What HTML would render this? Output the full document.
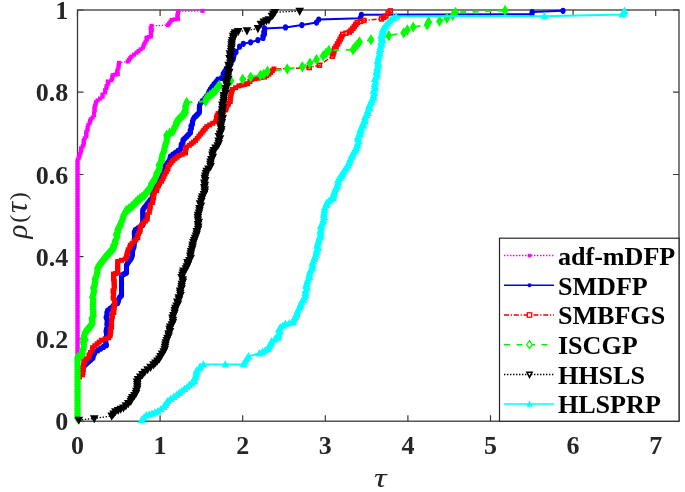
<!DOCTYPE html>
<html><head><meta charset="utf-8"><title>Performance profile</title>
<style>html,body{margin:0;padding:0;background:#fff}body{width:685px;height:492px;overflow:hidden}</style></head>
<body>
<svg width="685" height="492" viewBox="0 0 685 492" style="display:block">
<rect width="685" height="492" fill="#fff"/>
<rect x="77.5" y="10.0" width="601.5" height="411.2" fill="none" stroke="#3a3a3a" stroke-width="1.3"/>
<path d="M77.5 421.2v-6 M77.5 10.0v6 M160.1 421.2v-6 M160.1 10.0v6 M242.7 421.2v-6 M242.7 10.0v6 M325.3 421.2v-6 M325.3 10.0v6 M407.9 421.2v-6 M407.9 10.0v6 M490.5 421.2v-6 M490.5 10.0v6 M573.1 421.2v-6 M573.1 10.0v6 M655.7 421.2v-6 M655.7 10.0v6 M77.5 421.2h6 M679.0 421.2h-6 M77.5 339.0h6 M679.0 339.0h-6 M77.5 256.7h6 M679.0 256.7h-6 M77.5 174.5h6 M679.0 174.5h-6 M77.5 92.2h6 M679.0 92.2h-6 M77.5 10.0h6 M679.0 10.0h-6" stroke="#3a3a3a" stroke-width="1.2" fill="none"/>
<text x="77.5" y="454.0" text-anchor="middle" font-family="&quot;Liberation Serif&quot;, serif" font-weight="bold" font-size="26" fill="#262626">0</text>
<text x="160.1" y="454.0" text-anchor="middle" font-family="&quot;Liberation Serif&quot;, serif" font-weight="bold" font-size="26" fill="#262626">1</text>
<text x="242.7" y="454.0" text-anchor="middle" font-family="&quot;Liberation Serif&quot;, serif" font-weight="bold" font-size="26" fill="#262626">2</text>
<text x="325.3" y="454.0" text-anchor="middle" font-family="&quot;Liberation Serif&quot;, serif" font-weight="bold" font-size="26" fill="#262626">3</text>
<text x="407.9" y="454.0" text-anchor="middle" font-family="&quot;Liberation Serif&quot;, serif" font-weight="bold" font-size="26" fill="#262626">4</text>
<text x="490.5" y="454.0" text-anchor="middle" font-family="&quot;Liberation Serif&quot;, serif" font-weight="bold" font-size="26" fill="#262626">5</text>
<text x="573.1" y="454.0" text-anchor="middle" font-family="&quot;Liberation Serif&quot;, serif" font-weight="bold" font-size="26" fill="#262626">6</text>
<text x="655.7" y="454.0" text-anchor="middle" font-family="&quot;Liberation Serif&quot;, serif" font-weight="bold" font-size="26" fill="#262626">7</text>
<text x="68.3" y="430.2" text-anchor="end" font-family="&quot;Liberation Serif&quot;, serif" font-weight="bold" font-size="26" fill="#262626">0</text>
<text x="68.3" y="348.0" text-anchor="end" font-family="&quot;Liberation Serif&quot;, serif" font-weight="bold" font-size="26" fill="#262626">0.2</text>
<text x="68.3" y="265.7" text-anchor="end" font-family="&quot;Liberation Serif&quot;, serif" font-weight="bold" font-size="26" fill="#262626">0.4</text>
<text x="68.3" y="183.5" text-anchor="end" font-family="&quot;Liberation Serif&quot;, serif" font-weight="bold" font-size="26" fill="#262626">0.6</text>
<text x="68.3" y="101.2" text-anchor="end" font-family="&quot;Liberation Serif&quot;, serif" font-weight="bold" font-size="26" fill="#262626">0.8</text>
<text x="68.3" y="19.0" text-anchor="end" font-family="&quot;Liberation Serif&quot;, serif" font-weight="bold" font-size="26" fill="#262626">1</text>
<text transform="translate(380.3,486.5) scale(1.3,1)" text-anchor="middle" font-family="&quot;Liberation Serif&quot;, serif" font-style="italic" font-size="27" fill="#262626">τ</text>
<text transform="translate(27.2,214.5) rotate(-90)" text-anchor="middle" font-family="&quot;Liberation Serif&quot;, serif" font-style="italic" font-size="27" fill="#262626" letter-spacing="1.7"><tspan font-size="29">ρ</tspan><tspan font-style="normal" font-size="24" dy="-1">(</tspan><tspan font-size="31" dy="1">τ</tspan><tspan font-style="normal" font-size="24" dy="-1">)</tspan></text>
<path d="M77.5 419.0 L77.5 160.3 L81.3 150.2 L83.8 142.7 L87.6 130.1 L89.6 123.0 L92.6 117.6 L95.1 106.0 L97.6 100.4 L102.6 96.7 L106.4 87.9 L107.7 81.6 L111.4 80.3 L112.7 75.3 L117.7 74.0 L119.0 62.8 L127.7 61.5 L131.5 56.5 L136.5 52.7 L142.8 47.7 L146.6 37.7 L150.8 36.4 L151.6 25.9 L167.9 25.1 L171.7 20.0 L178.0 18.8 L178.5 11.3 L202.6 10.8" fill="none" stroke="#ff00ff" stroke-width="1.3" stroke-dasharray="1.4 1.6" stroke-linejoin="round"/>
<g><rect x="75.5" y="416.9" width="4.1" height="4.1" fill="#ff00ff"/><rect x="75.5" y="414.5" width="4.1" height="4.1" fill="#ff00ff"/><rect x="75.5" y="412.0" width="4.1" height="4.1" fill="#ff00ff"/><rect x="75.5" y="409.5" width="4.1" height="4.1" fill="#ff00ff"/><rect x="75.5" y="407.0" width="4.1" height="4.1" fill="#ff00ff"/><rect x="75.5" y="404.5" width="4.1" height="4.1" fill="#ff00ff"/><rect x="75.5" y="402.0" width="4.1" height="4.1" fill="#ff00ff"/><rect x="75.5" y="399.5" width="4.1" height="4.1" fill="#ff00ff"/><rect x="75.5" y="397.1" width="4.1" height="4.1" fill="#ff00ff"/><rect x="75.5" y="394.6" width="4.1" height="4.1" fill="#ff00ff"/><rect x="75.5" y="392.1" width="4.1" height="4.1" fill="#ff00ff"/><rect x="75.5" y="389.6" width="4.1" height="4.1" fill="#ff00ff"/><rect x="75.5" y="387.1" width="4.1" height="4.1" fill="#ff00ff"/><rect x="75.5" y="384.6" width="4.1" height="4.1" fill="#ff00ff"/><rect x="75.5" y="382.1" width="4.1" height="4.1" fill="#ff00ff"/><rect x="75.5" y="379.6" width="4.1" height="4.1" fill="#ff00ff"/><rect x="75.5" y="377.1" width="4.1" height="4.1" fill="#ff00ff"/><rect x="75.5" y="374.7" width="4.1" height="4.1" fill="#ff00ff"/><rect x="75.5" y="372.2" width="4.1" height="4.1" fill="#ff00ff"/><rect x="75.5" y="369.7" width="4.1" height="4.1" fill="#ff00ff"/><rect x="75.5" y="367.2" width="4.1" height="4.1" fill="#ff00ff"/><rect x="75.5" y="364.7" width="4.1" height="4.1" fill="#ff00ff"/><rect x="75.5" y="362.2" width="4.1" height="4.1" fill="#ff00ff"/><rect x="75.5" y="359.7" width="4.1" height="4.1" fill="#ff00ff"/><rect x="75.5" y="357.2" width="4.1" height="4.1" fill="#ff00ff"/><rect x="75.5" y="354.8" width="4.1" height="4.1" fill="#ff00ff"/><rect x="75.5" y="352.3" width="4.1" height="4.1" fill="#ff00ff"/><rect x="75.5" y="349.8" width="4.1" height="4.1" fill="#ff00ff"/><rect x="75.5" y="347.3" width="4.1" height="4.1" fill="#ff00ff"/><rect x="75.5" y="344.8" width="4.1" height="4.1" fill="#ff00ff"/><rect x="75.5" y="342.3" width="4.1" height="4.1" fill="#ff00ff"/><rect x="75.5" y="339.8" width="4.1" height="4.1" fill="#ff00ff"/><rect x="75.5" y="337.3" width="4.1" height="4.1" fill="#ff00ff"/><rect x="75.5" y="334.9" width="4.1" height="4.1" fill="#ff00ff"/><rect x="75.5" y="332.4" width="4.1" height="4.1" fill="#ff00ff"/><rect x="75.5" y="329.9" width="4.1" height="4.1" fill="#ff00ff"/><rect x="75.5" y="327.4" width="4.1" height="4.1" fill="#ff00ff"/><rect x="75.5" y="324.9" width="4.1" height="4.1" fill="#ff00ff"/><rect x="75.5" y="322.4" width="4.1" height="4.1" fill="#ff00ff"/><rect x="75.5" y="319.9" width="4.1" height="4.1" fill="#ff00ff"/><rect x="75.5" y="317.4" width="4.1" height="4.1" fill="#ff00ff"/><rect x="75.5" y="315.0" width="4.1" height="4.1" fill="#ff00ff"/><rect x="75.5" y="312.5" width="4.1" height="4.1" fill="#ff00ff"/><rect x="75.5" y="310.0" width="4.1" height="4.1" fill="#ff00ff"/><rect x="75.5" y="307.5" width="4.1" height="4.1" fill="#ff00ff"/><rect x="75.5" y="305.0" width="4.1" height="4.1" fill="#ff00ff"/><rect x="75.5" y="302.5" width="4.1" height="4.1" fill="#ff00ff"/><rect x="75.5" y="300.0" width="4.1" height="4.1" fill="#ff00ff"/><rect x="75.5" y="297.6" width="4.1" height="4.1" fill="#ff00ff"/><rect x="75.5" y="295.1" width="4.1" height="4.1" fill="#ff00ff"/><rect x="75.5" y="292.6" width="4.1" height="4.1" fill="#ff00ff"/><rect x="75.5" y="290.1" width="4.1" height="4.1" fill="#ff00ff"/><rect x="75.5" y="287.6" width="4.1" height="4.1" fill="#ff00ff"/><rect x="75.5" y="285.1" width="4.1" height="4.1" fill="#ff00ff"/><rect x="75.5" y="282.6" width="4.1" height="4.1" fill="#ff00ff"/><rect x="75.5" y="280.1" width="4.1" height="4.1" fill="#ff00ff"/><rect x="75.5" y="277.7" width="4.1" height="4.1" fill="#ff00ff"/><rect x="75.5" y="275.2" width="4.1" height="4.1" fill="#ff00ff"/><rect x="75.5" y="272.7" width="4.1" height="4.1" fill="#ff00ff"/><rect x="75.5" y="270.2" width="4.1" height="4.1" fill="#ff00ff"/><rect x="75.5" y="267.7" width="4.1" height="4.1" fill="#ff00ff"/><rect x="75.5" y="265.2" width="4.1" height="4.1" fill="#ff00ff"/><rect x="75.5" y="262.7" width="4.1" height="4.1" fill="#ff00ff"/><rect x="75.5" y="260.2" width="4.1" height="4.1" fill="#ff00ff"/><rect x="75.5" y="257.8" width="4.1" height="4.1" fill="#ff00ff"/><rect x="75.5" y="255.3" width="4.1" height="4.1" fill="#ff00ff"/><rect x="75.5" y="252.8" width="4.1" height="4.1" fill="#ff00ff"/><rect x="75.5" y="250.3" width="4.1" height="4.1" fill="#ff00ff"/><rect x="75.5" y="247.8" width="4.1" height="4.1" fill="#ff00ff"/><rect x="75.5" y="245.3" width="4.1" height="4.1" fill="#ff00ff"/><rect x="75.5" y="242.8" width="4.1" height="4.1" fill="#ff00ff"/><rect x="75.5" y="240.3" width="4.1" height="4.1" fill="#ff00ff"/><rect x="75.5" y="237.8" width="4.1" height="4.1" fill="#ff00ff"/><rect x="75.5" y="235.4" width="4.1" height="4.1" fill="#ff00ff"/><rect x="75.5" y="232.9" width="4.1" height="4.1" fill="#ff00ff"/><rect x="75.5" y="230.4" width="4.1" height="4.1" fill="#ff00ff"/><rect x="75.5" y="227.9" width="4.1" height="4.1" fill="#ff00ff"/><rect x="75.5" y="225.4" width="4.1" height="4.1" fill="#ff00ff"/><rect x="75.5" y="222.9" width="4.1" height="4.1" fill="#ff00ff"/><rect x="75.5" y="220.4" width="4.1" height="4.1" fill="#ff00ff"/><rect x="75.5" y="217.9" width="4.1" height="4.1" fill="#ff00ff"/><rect x="75.5" y="215.5" width="4.1" height="4.1" fill="#ff00ff"/><rect x="75.5" y="213.0" width="4.1" height="4.1" fill="#ff00ff"/><rect x="75.5" y="210.5" width="4.1" height="4.1" fill="#ff00ff"/><rect x="75.5" y="208.0" width="4.1" height="4.1" fill="#ff00ff"/><rect x="75.5" y="205.5" width="4.1" height="4.1" fill="#ff00ff"/><rect x="75.5" y="203.0" width="4.1" height="4.1" fill="#ff00ff"/><rect x="75.5" y="200.5" width="4.1" height="4.1" fill="#ff00ff"/><rect x="75.5" y="198.1" width="4.1" height="4.1" fill="#ff00ff"/><rect x="75.5" y="195.6" width="4.1" height="4.1" fill="#ff00ff"/><rect x="75.5" y="193.1" width="4.1" height="4.1" fill="#ff00ff"/><rect x="75.5" y="190.6" width="4.1" height="4.1" fill="#ff00ff"/><rect x="75.5" y="188.1" width="4.1" height="4.1" fill="#ff00ff"/><rect x="75.5" y="185.6" width="4.1" height="4.1" fill="#ff00ff"/><rect x="75.5" y="183.1" width="4.1" height="4.1" fill="#ff00ff"/><rect x="75.5" y="180.6" width="4.1" height="4.1" fill="#ff00ff"/><rect x="75.5" y="178.1" width="4.1" height="4.1" fill="#ff00ff"/><rect x="75.5" y="175.7" width="4.1" height="4.1" fill="#ff00ff"/><rect x="75.5" y="173.2" width="4.1" height="4.1" fill="#ff00ff"/><rect x="75.5" y="170.7" width="4.1" height="4.1" fill="#ff00ff"/><rect x="75.5" y="168.2" width="4.1" height="4.1" fill="#ff00ff"/><rect x="75.5" y="165.7" width="4.1" height="4.1" fill="#ff00ff"/><rect x="75.5" y="163.2" width="4.1" height="4.1" fill="#ff00ff"/><rect x="75.5" y="160.7" width="4.1" height="4.1" fill="#ff00ff"/><rect x="75.5" y="158.2" width="4.1" height="4.1" fill="#ff00ff"/><rect x="76.6" y="156.2" width="4.1" height="4.1" fill="#ff00ff"/><rect x="77.4" y="154.2" width="4.1" height="4.1" fill="#ff00ff"/><rect x="77.6" y="152.2" width="4.1" height="4.1" fill="#ff00ff"/><rect x="78.7" y="150.2" width="4.1" height="4.1" fill="#ff00ff"/><rect x="79.2" y="148.1" width="4.1" height="4.1" fill="#ff00ff"/><rect x="79.0" y="146.3" width="4.1" height="4.1" fill="#ff00ff"/><rect x="80.6" y="144.4" width="4.1" height="4.1" fill="#ff00ff"/><rect x="81.5" y="142.5" width="4.1" height="4.1" fill="#ff00ff"/><rect x="81.8" y="140.6" width="4.1" height="4.1" fill="#ff00ff"/><rect x="81.6" y="138.5" width="4.1" height="4.1" fill="#ff00ff"/><rect x="82.7" y="136.4" width="4.1" height="4.1" fill="#ff00ff"/><rect x="84.3" y="134.3" width="4.1" height="4.1" fill="#ff00ff"/><rect x="84.2" y="132.2" width="4.1" height="4.1" fill="#ff00ff"/><rect x="84.2" y="130.1" width="4.1" height="4.1" fill="#ff00ff"/><rect x="85.5" y="128.0" width="4.1" height="4.1" fill="#ff00ff"/><rect x="85.5" y="125.7" width="4.1" height="4.1" fill="#ff00ff"/><rect x="86.2" y="123.3" width="4.1" height="4.1" fill="#ff00ff"/><rect x="87.5" y="121.0" width="4.1" height="4.1" fill="#ff00ff"/><rect x="88.0" y="119.2" width="4.1" height="4.1" fill="#ff00ff"/><rect x="88.7" y="117.3" width="4.1" height="4.1" fill="#ff00ff"/><rect x="90.5" y="115.5" width="4.1" height="4.1" fill="#ff00ff"/><rect x="91.9" y="113.2" width="4.1" height="4.1" fill="#ff00ff"/><rect x="92.0" y="110.9" width="4.1" height="4.1" fill="#ff00ff"/><rect x="92.7" y="108.6" width="4.1" height="4.1" fill="#ff00ff"/><rect x="92.3" y="106.3" width="4.1" height="4.1" fill="#ff00ff"/><rect x="93.0" y="104.0" width="4.1" height="4.1" fill="#ff00ff"/><rect x="93.6" y="102.1" width="4.1" height="4.1" fill="#ff00ff"/><rect x="93.9" y="100.2" width="4.1" height="4.1" fill="#ff00ff"/><rect x="95.5" y="98.4" width="4.1" height="4.1" fill="#ff00ff"/><rect x="98.0" y="96.5" width="4.1" height="4.1" fill="#ff00ff"/><rect x="100.5" y="94.7" width="4.1" height="4.1" fill="#ff00ff"/><rect x="100.5" y="92.5" width="4.1" height="4.1" fill="#ff00ff"/><rect x="103.0" y="90.3" width="4.1" height="4.1" fill="#ff00ff"/><rect x="103.1" y="88.1" width="4.1" height="4.1" fill="#ff00ff"/><rect x="104.4" y="85.9" width="4.1" height="4.1" fill="#ff00ff"/><rect x="104.6" y="83.8" width="4.1" height="4.1" fill="#ff00ff"/><rect x="106.2" y="81.7" width="4.1" height="4.1" fill="#ff00ff"/><rect x="105.7" y="79.5" width="4.1" height="4.1" fill="#ff00ff"/><rect x="109.4" y="78.2" width="4.1" height="4.1" fill="#ff00ff"/><rect x="110.2" y="76.6" width="4.1" height="4.1" fill="#ff00ff"/><rect x="110.3" y="74.9" width="4.1" height="4.1" fill="#ff00ff"/><rect x="110.7" y="73.2" width="4.1" height="4.1" fill="#ff00ff"/><rect x="113.2" y="72.6" width="4.1" height="4.1" fill="#ff00ff"/><rect x="115.7" y="72.0" width="4.1" height="4.1" fill="#ff00ff"/><rect x="115.1" y="69.7" width="4.1" height="4.1" fill="#ff00ff"/><rect x="115.7" y="67.5" width="4.1" height="4.1" fill="#ff00ff"/><rect x="116.6" y="65.2" width="4.1" height="4.1" fill="#ff00ff"/><rect x="116.6" y="63.0" width="4.1" height="4.1" fill="#ff00ff"/><rect x="117.0" y="60.8" width="4.1" height="4.1" fill="#ff00ff"/><rect x="125.7" y="59.5" width="4.1" height="4.1" fill="#ff00ff"/><rect x="126.9" y="57.8" width="4.1" height="4.1" fill="#ff00ff"/><rect x="128.2" y="56.1" width="4.1" height="4.1" fill="#ff00ff"/><rect x="129.4" y="54.5" width="4.1" height="4.1" fill="#ff00ff"/><rect x="131.9" y="52.6" width="4.1" height="4.1" fill="#ff00ff"/><rect x="134.4" y="50.7" width="4.1" height="4.1" fill="#ff00ff"/><rect x="136.5" y="49.0" width="4.1" height="4.1" fill="#ff00ff"/><rect x="138.7" y="47.3" width="4.1" height="4.1" fill="#ff00ff"/><rect x="140.8" y="45.7" width="4.1" height="4.1" fill="#ff00ff"/><rect x="141.5" y="43.7" width="4.1" height="4.1" fill="#ff00ff"/><rect x="142.4" y="41.7" width="4.1" height="4.1" fill="#ff00ff"/><rect x="143.5" y="39.7" width="4.1" height="4.1" fill="#ff00ff"/><rect x="144.8" y="37.7" width="4.1" height="4.1" fill="#ff00ff"/><rect x="144.5" y="35.7" width="4.1" height="4.1" fill="#ff00ff"/><rect x="146.6" y="35.0" width="4.1" height="4.1" fill="#ff00ff"/><rect x="148.8" y="34.4" width="4.1" height="4.1" fill="#ff00ff"/><rect x="149.0" y="32.2" width="4.1" height="4.1" fill="#ff00ff"/><rect x="148.7" y="30.1" width="4.1" height="4.1" fill="#ff00ff"/><rect x="149.8" y="28.0" width="4.1" height="4.1" fill="#ff00ff"/><rect x="148.6" y="25.9" width="4.1" height="4.1" fill="#ff00ff"/><rect x="149.5" y="23.8" width="4.1" height="4.1" fill="#ff00ff"/><rect x="165.8" y="23.1" width="4.1" height="4.1" fill="#ff00ff"/><rect x="167.1" y="21.4" width="4.1" height="4.1" fill="#ff00ff"/><rect x="168.4" y="19.6" width="4.1" height="4.1" fill="#ff00ff"/><rect x="169.6" y="17.9" width="4.1" height="4.1" fill="#ff00ff"/><rect x="172.8" y="17.3" width="4.1" height="4.1" fill="#ff00ff"/><rect x="175.9" y="16.8" width="4.1" height="4.1" fill="#ff00ff"/><rect x="175.5" y="14.9" width="4.1" height="4.1" fill="#ff00ff"/><rect x="175.4" y="13.0" width="4.1" height="4.1" fill="#ff00ff"/><rect x="175.9" y="11.1" width="4.1" height="4.1" fill="#ff00ff"/><rect x="176.4" y="9.2" width="4.1" height="4.1" fill="#ff00ff"/><rect x="200.5" y="8.8" width="4.1" height="4.1" fill="#ff00ff"/></g>
<path d="M79.0 371.0 L84.5 365.5 L93.0 357.8 L94.8 352.2 L106.4 345.2 L107.2 315.1 L107.7 310.5 L117.7 302.9 L121.5 295.4 L121.5 275.3 L126.5 272.8 L126.5 265.3 L131.5 257.7 L134.0 245.2 L135.3 230.1 L142.8 225.1 L142.8 210.0 L144.1 208.0 L150.3 200.0 L162.9 170.3 L170.4 156.5 L180.5 149.0 L183.0 140.2 L190.5 132.6 L194.3 117.6 L199.3 112.6 L199.5 106.0 L212.0 86.9 L217.8 79.5 L221.5 78.0 L227.0 68.0 L233.1 59.2 L236.0 51.9 L239.6 46.7 L243.3 43.8 L250.6 42.3 L257.9 40.1 L263.1 37.9 L263.8 32.1 L264.5 28.4 L285.5 27.4 L301.9 25.1 L316.5 22.6 L318.7 19.6 L360.3 18.2 L361.4 14.8 L531.9 14.2 L532.2 12.0 L563.0 10.8" fill="none" stroke="#0000f0" stroke-width="2.0" stroke-linejoin="round"/>
<g><ellipse cx="79.0" cy="371.0" rx="2.6" ry="3.1" fill="#0000f0"/><ellipse cx="80.8" cy="369.2" rx="2.6" ry="3.1" fill="#0000f0"/><ellipse cx="82.7" cy="367.3" rx="2.6" ry="3.1" fill="#0000f0"/><ellipse cx="84.5" cy="365.5" rx="2.6" ry="3.1" fill="#0000f0"/><ellipse cx="86.6" cy="363.6" rx="2.6" ry="3.1" fill="#0000f0"/><ellipse cx="88.8" cy="361.6" rx="2.6" ry="3.1" fill="#0000f0"/><ellipse cx="90.9" cy="359.7" rx="2.6" ry="3.1" fill="#0000f0"/><ellipse cx="93.0" cy="357.8" rx="2.6" ry="3.1" fill="#0000f0"/><ellipse cx="92.8" cy="355.9" rx="2.6" ry="3.1" fill="#0000f0"/><ellipse cx="94.3" cy="354.1" rx="2.6" ry="3.1" fill="#0000f0"/><ellipse cx="94.8" cy="352.2" rx="2.6" ry="3.1" fill="#0000f0"/><ellipse cx="97.7" cy="350.4" rx="2.6" ry="3.1" fill="#0000f0"/><ellipse cx="100.6" cy="348.7" rx="2.6" ry="3.1" fill="#0000f0"/><ellipse cx="103.5" cy="346.9" rx="2.6" ry="3.1" fill="#0000f0"/><ellipse cx="106.4" cy="345.2" rx="2.6" ry="3.1" fill="#0000f0"/><ellipse cx="105.7" cy="342.9" rx="2.6" ry="3.1" fill="#0000f0"/><ellipse cx="105.9" cy="340.6" rx="2.6" ry="3.1" fill="#0000f0"/><ellipse cx="105.8" cy="338.3" rx="2.6" ry="3.1" fill="#0000f0"/><ellipse cx="106.6" cy="335.9" rx="2.6" ry="3.1" fill="#0000f0"/><ellipse cx="106.5" cy="333.6" rx="2.6" ry="3.1" fill="#0000f0"/><ellipse cx="106.1" cy="331.3" rx="2.6" ry="3.1" fill="#0000f0"/><ellipse cx="106.5" cy="329.0" rx="2.6" ry="3.1" fill="#0000f0"/><ellipse cx="107.7" cy="326.7" rx="2.6" ry="3.1" fill="#0000f0"/><ellipse cx="106.9" cy="324.4" rx="2.6" ry="3.1" fill="#0000f0"/><ellipse cx="107.2" cy="322.0" rx="2.6" ry="3.1" fill="#0000f0"/><ellipse cx="107.2" cy="319.7" rx="2.6" ry="3.1" fill="#0000f0"/><ellipse cx="106.2" cy="317.4" rx="2.6" ry="3.1" fill="#0000f0"/><ellipse cx="107.2" cy="315.1" rx="2.6" ry="3.1" fill="#0000f0"/><ellipse cx="106.9" cy="312.8" rx="2.6" ry="3.1" fill="#0000f0"/><ellipse cx="107.7" cy="310.5" rx="2.6" ry="3.1" fill="#0000f0"/><ellipse cx="110.2" cy="308.6" rx="2.6" ry="3.1" fill="#0000f0"/><ellipse cx="112.7" cy="306.7" rx="2.6" ry="3.1" fill="#0000f0"/><ellipse cx="115.2" cy="304.8" rx="2.6" ry="3.1" fill="#0000f0"/><ellipse cx="117.7" cy="302.9" rx="2.6" ry="3.1" fill="#0000f0"/><ellipse cx="118.4" cy="301.0" rx="2.6" ry="3.1" fill="#0000f0"/><ellipse cx="118.8" cy="299.1" rx="2.6" ry="3.1" fill="#0000f0"/><ellipse cx="119.7" cy="297.3" rx="2.6" ry="3.1" fill="#0000f0"/><ellipse cx="121.5" cy="295.4" rx="2.6" ry="3.1" fill="#0000f0"/><ellipse cx="121.5" cy="293.2" rx="2.6" ry="3.1" fill="#0000f0"/><ellipse cx="121.5" cy="290.9" rx="2.6" ry="3.1" fill="#0000f0"/><ellipse cx="121.5" cy="288.7" rx="2.6" ry="3.1" fill="#0000f0"/><ellipse cx="121.5" cy="286.5" rx="2.6" ry="3.1" fill="#0000f0"/><ellipse cx="121.5" cy="284.2" rx="2.6" ry="3.1" fill="#0000f0"/><ellipse cx="121.5" cy="282.0" rx="2.6" ry="3.1" fill="#0000f0"/><ellipse cx="121.5" cy="279.8" rx="2.6" ry="3.1" fill="#0000f0"/><ellipse cx="121.5" cy="277.5" rx="2.6" ry="3.1" fill="#0000f0"/><ellipse cx="121.5" cy="275.3" rx="2.6" ry="3.1" fill="#0000f0"/><ellipse cx="124.0" cy="274.1" rx="2.6" ry="3.1" fill="#0000f0"/><ellipse cx="126.5" cy="272.8" rx="2.6" ry="3.1" fill="#0000f0"/><ellipse cx="126.5" cy="270.9" rx="2.6" ry="3.1" fill="#0000f0"/><ellipse cx="126.5" cy="269.1" rx="2.6" ry="3.1" fill="#0000f0"/><ellipse cx="126.5" cy="267.2" rx="2.6" ry="3.1" fill="#0000f0"/><ellipse cx="126.5" cy="265.3" rx="2.6" ry="3.1" fill="#0000f0"/><ellipse cx="127.6" cy="263.4" rx="2.6" ry="3.1" fill="#0000f0"/><ellipse cx="128.9" cy="261.5" rx="2.6" ry="3.1" fill="#0000f0"/><ellipse cx="130.4" cy="259.6" rx="2.6" ry="3.1" fill="#0000f0"/><ellipse cx="131.5" cy="257.7" rx="2.6" ry="3.1" fill="#0000f0"/><ellipse cx="132.3" cy="255.6" rx="2.6" ry="3.1" fill="#0000f0"/><ellipse cx="132.4" cy="253.5" rx="2.6" ry="3.1" fill="#0000f0"/><ellipse cx="132.6" cy="251.4" rx="2.6" ry="3.1" fill="#0000f0"/><ellipse cx="132.8" cy="249.4" rx="2.6" ry="3.1" fill="#0000f0"/><ellipse cx="133.9" cy="247.3" rx="2.6" ry="3.1" fill="#0000f0"/><ellipse cx="134.0" cy="245.2" rx="2.6" ry="3.1" fill="#0000f0"/><ellipse cx="134.3" cy="243.0" rx="2.6" ry="3.1" fill="#0000f0"/><ellipse cx="135.0" cy="240.9" rx="2.6" ry="3.1" fill="#0000f0"/><ellipse cx="134.4" cy="238.7" rx="2.6" ry="3.1" fill="#0000f0"/><ellipse cx="135.3" cy="236.6" rx="2.6" ry="3.1" fill="#0000f0"/><ellipse cx="134.4" cy="234.4" rx="2.6" ry="3.1" fill="#0000f0"/><ellipse cx="134.4" cy="232.3" rx="2.6" ry="3.1" fill="#0000f0"/><ellipse cx="135.3" cy="230.1" rx="2.6" ry="3.1" fill="#0000f0"/><ellipse cx="137.8" cy="228.4" rx="2.6" ry="3.1" fill="#0000f0"/><ellipse cx="140.3" cy="226.8" rx="2.6" ry="3.1" fill="#0000f0"/><ellipse cx="142.8" cy="225.1" rx="2.6" ry="3.1" fill="#0000f0"/><ellipse cx="142.8" cy="222.9" rx="2.6" ry="3.1" fill="#0000f0"/><ellipse cx="142.8" cy="220.8" rx="2.6" ry="3.1" fill="#0000f0"/><ellipse cx="142.8" cy="218.6" rx="2.6" ry="3.1" fill="#0000f0"/><ellipse cx="142.8" cy="216.5" rx="2.6" ry="3.1" fill="#0000f0"/><ellipse cx="142.8" cy="214.3" rx="2.6" ry="3.1" fill="#0000f0"/><ellipse cx="142.8" cy="212.2" rx="2.6" ry="3.1" fill="#0000f0"/><ellipse cx="142.8" cy="210.0" rx="2.6" ry="3.1" fill="#0000f0"/><ellipse cx="144.1" cy="208.0" rx="2.6" ry="3.1" fill="#0000f0"/><ellipse cx="145.7" cy="206.0" rx="2.6" ry="3.1" fill="#0000f0"/><ellipse cx="147.2" cy="204.0" rx="2.6" ry="3.1" fill="#0000f0"/><ellipse cx="148.8" cy="202.0" rx="2.6" ry="3.1" fill="#0000f0"/><ellipse cx="150.3" cy="200.0" rx="2.6" ry="3.1" fill="#0000f0"/><ellipse cx="152.2" cy="197.5" rx="2.6" ry="3.1" fill="#0000f0"/><ellipse cx="152.3" cy="195.1" rx="2.6" ry="3.1" fill="#0000f0"/><ellipse cx="153.3" cy="192.6" rx="2.6" ry="3.1" fill="#0000f0"/><ellipse cx="154.1" cy="190.1" rx="2.6" ry="3.1" fill="#0000f0"/><ellipse cx="155.6" cy="187.6" rx="2.6" ry="3.1" fill="#0000f0"/><ellipse cx="156.6" cy="185.2" rx="2.6" ry="3.1" fill="#0000f0"/><ellipse cx="157.3" cy="182.7" rx="2.6" ry="3.1" fill="#0000f0"/><ellipse cx="158.5" cy="180.2" rx="2.6" ry="3.1" fill="#0000f0"/><ellipse cx="159.4" cy="177.7" rx="2.6" ry="3.1" fill="#0000f0"/><ellipse cx="161.7" cy="175.2" rx="2.6" ry="3.1" fill="#0000f0"/><ellipse cx="161.8" cy="172.8" rx="2.6" ry="3.1" fill="#0000f0"/><ellipse cx="162.9" cy="170.3" rx="2.6" ry="3.1" fill="#0000f0"/><ellipse cx="164.1" cy="168.0" rx="2.6" ry="3.1" fill="#0000f0"/><ellipse cx="165.6" cy="165.7" rx="2.6" ry="3.1" fill="#0000f0"/><ellipse cx="167.2" cy="163.4" rx="2.6" ry="3.1" fill="#0000f0"/><ellipse cx="168.9" cy="161.1" rx="2.6" ry="3.1" fill="#0000f0"/><ellipse cx="170.0" cy="158.8" rx="2.6" ry="3.1" fill="#0000f0"/><ellipse cx="170.4" cy="156.5" rx="2.6" ry="3.1" fill="#0000f0"/><ellipse cx="172.9" cy="154.6" rx="2.6" ry="3.1" fill="#0000f0"/><ellipse cx="175.4" cy="152.8" rx="2.6" ry="3.1" fill="#0000f0"/><ellipse cx="178.0" cy="150.9" rx="2.6" ry="3.1" fill="#0000f0"/><ellipse cx="180.5" cy="149.0" rx="2.6" ry="3.1" fill="#0000f0"/><ellipse cx="181.2" cy="146.8" rx="2.6" ry="3.1" fill="#0000f0"/><ellipse cx="181.3" cy="144.6" rx="2.6" ry="3.1" fill="#0000f0"/><ellipse cx="183.0" cy="142.4" rx="2.6" ry="3.1" fill="#0000f0"/><ellipse cx="183.0" cy="140.2" rx="2.6" ry="3.1" fill="#0000f0"/><ellipse cx="184.9" cy="138.3" rx="2.6" ry="3.1" fill="#0000f0"/><ellipse cx="186.8" cy="136.4" rx="2.6" ry="3.1" fill="#0000f0"/><ellipse cx="188.6" cy="134.5" rx="2.6" ry="3.1" fill="#0000f0"/><ellipse cx="190.5" cy="132.6" rx="2.6" ry="3.1" fill="#0000f0"/><ellipse cx="190.3" cy="130.5" rx="2.6" ry="3.1" fill="#0000f0"/><ellipse cx="191.4" cy="128.3" rx="2.6" ry="3.1" fill="#0000f0"/><ellipse cx="191.1" cy="126.2" rx="2.6" ry="3.1" fill="#0000f0"/><ellipse cx="192.5" cy="124.0" rx="2.6" ry="3.1" fill="#0000f0"/><ellipse cx="192.4" cy="121.9" rx="2.6" ry="3.1" fill="#0000f0"/><ellipse cx="193.2" cy="119.7" rx="2.6" ry="3.1" fill="#0000f0"/><ellipse cx="194.3" cy="117.6" rx="2.6" ry="3.1" fill="#0000f0"/><ellipse cx="196.0" cy="115.9" rx="2.6" ry="3.1" fill="#0000f0"/><ellipse cx="197.6" cy="114.3" rx="2.6" ry="3.1" fill="#0000f0"/><ellipse cx="199.3" cy="112.6" rx="2.6" ry="3.1" fill="#0000f0"/><ellipse cx="199.4" cy="110.4" rx="2.6" ry="3.1" fill="#0000f0"/><ellipse cx="199.4" cy="108.2" rx="2.6" ry="3.1" fill="#0000f0"/><ellipse cx="199.5" cy="106.0" rx="2.6" ry="3.1" fill="#0000f0"/><ellipse cx="200.4" cy="103.6" rx="2.6" ry="3.1" fill="#0000f0"/><ellipse cx="202.4" cy="101.2" rx="2.6" ry="3.1" fill="#0000f0"/><ellipse cx="204.7" cy="98.8" rx="2.6" ry="3.1" fill="#0000f0"/><ellipse cx="206.3" cy="96.5" rx="2.6" ry="3.1" fill="#0000f0"/><ellipse cx="208.1" cy="94.1" rx="2.6" ry="3.1" fill="#0000f0"/><ellipse cx="209.1" cy="91.7" rx="2.6" ry="3.1" fill="#0000f0"/><ellipse cx="210.3" cy="89.3" rx="2.6" ry="3.1" fill="#0000f0"/><ellipse cx="212.0" cy="86.9" rx="2.6" ry="3.1" fill="#0000f0"/><ellipse cx="213.9" cy="84.4" rx="2.6" ry="3.1" fill="#0000f0"/><ellipse cx="215.9" cy="82.0" rx="2.6" ry="3.1" fill="#0000f0"/><ellipse cx="217.8" cy="79.5" rx="2.6" ry="3.1" fill="#0000f0"/><ellipse cx="221.5" cy="78.0" rx="2.6" ry="3.1" fill="#0000f0"/><ellipse cx="223.5" cy="76.0" rx="2.6" ry="3.1" fill="#0000f0"/><ellipse cx="223.2" cy="74.0" rx="2.6" ry="3.1" fill="#0000f0"/><ellipse cx="224.4" cy="72.0" rx="2.6" ry="3.1" fill="#0000f0"/><ellipse cx="225.7" cy="70.0" rx="2.6" ry="3.1" fill="#0000f0"/><ellipse cx="227.0" cy="68.0" rx="2.6" ry="3.1" fill="#0000f0"/><ellipse cx="228.5" cy="65.8" rx="2.6" ry="3.1" fill="#0000f0"/><ellipse cx="230.1" cy="63.6" rx="2.6" ry="3.1" fill="#0000f0"/><ellipse cx="231.6" cy="61.4" rx="2.6" ry="3.1" fill="#0000f0"/><ellipse cx="233.1" cy="59.2" rx="2.6" ry="3.1" fill="#0000f0"/><ellipse cx="233.7" cy="56.8" rx="2.6" ry="3.1" fill="#0000f0"/><ellipse cx="234.2" cy="54.3" rx="2.6" ry="3.1" fill="#0000f0"/><ellipse cx="236.0" cy="51.9" rx="2.6" ry="3.1" fill="#0000f0"/><ellipse cx="239.6" cy="46.7" rx="2.6" ry="3.1" fill="#0000f0"/><ellipse cx="243.3" cy="43.8" rx="2.6" ry="3.1" fill="#0000f0"/><ellipse cx="250.6" cy="42.3" rx="2.6" ry="3.1" fill="#0000f0"/><ellipse cx="257.9" cy="40.1" rx="2.6" ry="3.1" fill="#0000f0"/><ellipse cx="263.1" cy="37.9" rx="2.6" ry="3.1" fill="#0000f0"/><ellipse cx="263.0" cy="36.0" rx="2.6" ry="3.1" fill="#0000f0"/><ellipse cx="264.5" cy="34.0" rx="2.6" ry="3.1" fill="#0000f0"/><ellipse cx="263.8" cy="32.1" rx="2.6" ry="3.1" fill="#0000f0"/><ellipse cx="264.6" cy="30.2" rx="2.6" ry="3.1" fill="#0000f0"/><ellipse cx="264.5" cy="28.4" rx="2.6" ry="3.1" fill="#0000f0"/><ellipse cx="285.5" cy="27.4" rx="2.6" ry="3.1" fill="#0000f0"/><ellipse cx="301.9" cy="25.1" rx="2.6" ry="3.1" fill="#0000f0"/><ellipse cx="316.5" cy="22.6" rx="2.6" ry="3.1" fill="#0000f0"/><ellipse cx="318.7" cy="19.6" rx="2.6" ry="3.1" fill="#0000f0"/><ellipse cx="360.3" cy="18.2" rx="2.6" ry="3.1" fill="#0000f0"/><ellipse cx="361.4" cy="14.8" rx="2.6" ry="3.1" fill="#0000f0"/><ellipse cx="531.9" cy="14.2" rx="2.6" ry="3.1" fill="#0000f0"/><ellipse cx="532.2" cy="12.0" rx="2.6" ry="3.1" fill="#0000f0"/><ellipse cx="563.0" cy="10.8" rx="2.6" ry="3.1" fill="#0000f0"/></g>
<path d="M79.5 377.0 L82.4 374.9 L83.8 360.3 L89.0 357.3 L92.6 347.7 L101.4 340.2 L108.9 337.7 L111.4 325.1 L113.9 312.6 L113.5 274.1 L117.7 272.8 L117.7 261.5 L125.2 259.0 L130.3 245.2 L137.8 237.7 L141.6 225.1 L147.2 219.3 L150.2 207.5 L154.4 192.9 L162.9 178.8 L167.9 166.8 L172.9 160.5 L179.2 155.5 L185.5 153.0 L186.5 147.0 L189.3 145.4 L195.5 140.4 L200.6 134.1 L206.8 126.6 L215.6 121.6 L218.1 113.6 L225.7 110.0 L228.0 105.0 L230.1 99.8 L232.3 89.5 L238.9 85.9 L247.7 83.7 L252.1 79.3 L264.5 77.1 L268.9 74.2 L274.0 69.0 L309.2 67.6 L319.4 65.2 L332.4 56.2 L334.6 48.9 L339.0 41.6 L342.7 34.3 L349.3 32.1 L352.9 28.4 L357.3 22.6 L363.9 20.4 L381.5 18.9 L385.9 16.0 L390.3 10.9" fill="none" stroke="#ff0000" stroke-width="1.5" stroke-dasharray="5 1.8 1.2 1.8" stroke-linejoin="round"/>
<g><rect x="77.0" y="374.5" width="5.0" height="5.0" fill="#ff0000"/><rect x="79.9" y="372.4" width="5.0" height="5.0" fill="#ff0000"/><rect x="80.5" y="370.0" width="5.0" height="5.0" fill="#ff0000"/><rect x="80.8" y="367.5" width="5.0" height="5.0" fill="#ff0000"/><rect x="80.5" y="365.1" width="5.0" height="5.0" fill="#ff0000"/><rect x="81.0" y="362.7" width="5.0" height="5.0" fill="#ff0000"/><rect x="81.9" y="360.2" width="5.0" height="5.0" fill="#ff0000"/><rect x="81.3" y="357.8" width="5.0" height="5.0" fill="#ff0000"/><rect x="83.9" y="356.3" width="5.0" height="5.0" fill="#ff0000"/><rect x="86.5" y="354.8" width="5.0" height="5.0" fill="#ff0000"/><rect x="86.6" y="352.4" width="5.0" height="5.0" fill="#ff0000"/><rect x="88.0" y="350.0" width="5.0" height="5.0" fill="#ff0000"/><rect x="89.8" y="347.6" width="5.0" height="5.0" fill="#ff0000"/><rect x="90.1" y="345.2" width="5.0" height="5.0" fill="#ff0000"/><rect x="92.3" y="343.3" width="5.0" height="5.0" fill="#ff0000"/><rect x="94.5" y="341.4" width="5.0" height="5.0" fill="#ff0000"/><rect x="96.7" y="339.6" width="5.0" height="5.0" fill="#ff0000"/><rect x="98.9" y="337.7" width="5.0" height="5.0" fill="#ff0000"/><rect x="102.7" y="336.4" width="5.0" height="5.0" fill="#ff0000"/><rect x="106.4" y="335.2" width="5.0" height="5.0" fill="#ff0000"/><rect x="107.7" y="333.1" width="5.0" height="5.0" fill="#ff0000"/><rect x="107.7" y="331.0" width="5.0" height="5.0" fill="#ff0000"/><rect x="108.3" y="328.9" width="5.0" height="5.0" fill="#ff0000"/><rect x="107.8" y="326.8" width="5.0" height="5.0" fill="#ff0000"/><rect x="109.1" y="324.7" width="5.0" height="5.0" fill="#ff0000"/><rect x="108.9" y="322.6" width="5.0" height="5.0" fill="#ff0000"/><rect x="109.1" y="320.5" width="5.0" height="5.0" fill="#ff0000"/><rect x="108.9" y="318.4" width="5.0" height="5.0" fill="#ff0000"/><rect x="109.3" y="316.4" width="5.0" height="5.0" fill="#ff0000"/><rect x="109.9" y="314.3" width="5.0" height="5.0" fill="#ff0000"/><rect x="110.0" y="312.2" width="5.0" height="5.0" fill="#ff0000"/><rect x="111.4" y="310.1" width="5.0" height="5.0" fill="#ff0000"/><rect x="110.6" y="307.7" width="5.0" height="5.0" fill="#ff0000"/><rect x="111.8" y="305.3" width="5.0" height="5.0" fill="#ff0000"/><rect x="111.5" y="302.9" width="5.0" height="5.0" fill="#ff0000"/><rect x="112.3" y="300.5" width="5.0" height="5.0" fill="#ff0000"/><rect x="112.1" y="298.1" width="5.0" height="5.0" fill="#ff0000"/><rect x="110.7" y="295.7" width="5.0" height="5.0" fill="#ff0000"/><rect x="110.8" y="293.3" width="5.0" height="5.0" fill="#ff0000"/><rect x="111.2" y="290.9" width="5.0" height="5.0" fill="#ff0000"/><rect x="110.5" y="288.4" width="5.0" height="5.0" fill="#ff0000"/><rect x="111.6" y="286.0" width="5.0" height="5.0" fill="#ff0000"/><rect x="112.0" y="283.6" width="5.0" height="5.0" fill="#ff0000"/><rect x="111.5" y="281.2" width="5.0" height="5.0" fill="#ff0000"/><rect x="111.8" y="278.8" width="5.0" height="5.0" fill="#ff0000"/><rect x="111.0" y="276.4" width="5.0" height="5.0" fill="#ff0000"/><rect x="111.4" y="274.0" width="5.0" height="5.0" fill="#ff0000"/><rect x="111.0" y="271.6" width="5.0" height="5.0" fill="#ff0000"/><rect x="113.1" y="271.0" width="5.0" height="5.0" fill="#ff0000"/><rect x="115.2" y="270.3" width="5.0" height="5.0" fill="#ff0000"/><rect x="115.2" y="268.0" width="5.0" height="5.0" fill="#ff0000"/><rect x="115.2" y="265.8" width="5.0" height="5.0" fill="#ff0000"/><rect x="115.2" y="263.5" width="5.0" height="5.0" fill="#ff0000"/><rect x="115.2" y="261.3" width="5.0" height="5.0" fill="#ff0000"/><rect x="115.2" y="259.0" width="5.0" height="5.0" fill="#ff0000"/><rect x="119.0" y="257.8" width="5.0" height="5.0" fill="#ff0000"/><rect x="122.7" y="256.5" width="5.0" height="5.0" fill="#ff0000"/><rect x="124.0" y="254.2" width="5.0" height="5.0" fill="#ff0000"/><rect x="124.5" y="251.9" width="5.0" height="5.0" fill="#ff0000"/><rect x="125.1" y="249.6" width="5.0" height="5.0" fill="#ff0000"/><rect x="125.8" y="247.3" width="5.0" height="5.0" fill="#ff0000"/><rect x="127.3" y="245.0" width="5.0" height="5.0" fill="#ff0000"/><rect x="127.8" y="242.7" width="5.0" height="5.0" fill="#ff0000"/><rect x="129.7" y="240.8" width="5.0" height="5.0" fill="#ff0000"/><rect x="131.6" y="238.9" width="5.0" height="5.0" fill="#ff0000"/><rect x="133.4" y="237.1" width="5.0" height="5.0" fill="#ff0000"/><rect x="135.3" y="235.2" width="5.0" height="5.0" fill="#ff0000"/><rect x="135.1" y="233.1" width="5.0" height="5.0" fill="#ff0000"/><rect x="136.1" y="231.0" width="5.0" height="5.0" fill="#ff0000"/><rect x="137.4" y="228.9" width="5.0" height="5.0" fill="#ff0000"/><rect x="137.7" y="226.8" width="5.0" height="5.0" fill="#ff0000"/><rect x="137.6" y="224.7" width="5.0" height="5.0" fill="#ff0000"/><rect x="139.1" y="222.6" width="5.0" height="5.0" fill="#ff0000"/><rect x="141.0" y="220.7" width="5.0" height="5.0" fill="#ff0000"/><rect x="142.8" y="218.7" width="5.0" height="5.0" fill="#ff0000"/><rect x="144.7" y="216.8" width="5.0" height="5.0" fill="#ff0000"/><rect x="144.9" y="214.4" width="5.0" height="5.0" fill="#ff0000"/><rect x="145.0" y="212.1" width="5.0" height="5.0" fill="#ff0000"/><rect x="146.8" y="209.7" width="5.0" height="5.0" fill="#ff0000"/><rect x="147.2" y="207.4" width="5.0" height="5.0" fill="#ff0000"/><rect x="147.7" y="205.0" width="5.0" height="5.0" fill="#ff0000"/><rect x="147.8" y="202.6" width="5.0" height="5.0" fill="#ff0000"/><rect x="150.0" y="200.1" width="5.0" height="5.0" fill="#ff0000"/><rect x="150.4" y="197.7" width="5.0" height="5.0" fill="#ff0000"/><rect x="151.2" y="195.3" width="5.0" height="5.0" fill="#ff0000"/><rect x="150.4" y="192.8" width="5.0" height="5.0" fill="#ff0000"/><rect x="151.9" y="190.4" width="5.0" height="5.0" fill="#ff0000"/><rect x="154.2" y="188.1" width="5.0" height="5.0" fill="#ff0000"/><rect x="154.6" y="185.7" width="5.0" height="5.0" fill="#ff0000"/><rect x="156.0" y="183.4" width="5.0" height="5.0" fill="#ff0000"/><rect x="157.2" y="181.0" width="5.0" height="5.0" fill="#ff0000"/><rect x="159.1" y="178.7" width="5.0" height="5.0" fill="#ff0000"/><rect x="160.4" y="176.3" width="5.0" height="5.0" fill="#ff0000"/><rect x="161.4" y="173.9" width="5.0" height="5.0" fill="#ff0000"/><rect x="162.6" y="171.5" width="5.0" height="5.0" fill="#ff0000"/><rect x="163.9" y="169.1" width="5.0" height="5.0" fill="#ff0000"/><rect x="165.4" y="166.7" width="5.0" height="5.0" fill="#ff0000"/><rect x="165.4" y="164.3" width="5.0" height="5.0" fill="#ff0000"/><rect x="167.1" y="162.2" width="5.0" height="5.0" fill="#ff0000"/><rect x="168.7" y="160.1" width="5.0" height="5.0" fill="#ff0000"/><rect x="170.4" y="158.0" width="5.0" height="5.0" fill="#ff0000"/><rect x="172.5" y="156.3" width="5.0" height="5.0" fill="#ff0000"/><rect x="174.6" y="154.7" width="5.0" height="5.0" fill="#ff0000"/><rect x="176.7" y="153.0" width="5.0" height="5.0" fill="#ff0000"/><rect x="179.8" y="151.8" width="5.0" height="5.0" fill="#ff0000"/><rect x="183.0" y="150.5" width="5.0" height="5.0" fill="#ff0000"/><rect x="182.6" y="148.5" width="5.0" height="5.0" fill="#ff0000"/><rect x="183.5" y="146.5" width="5.0" height="5.0" fill="#ff0000"/><rect x="184.0" y="144.5" width="5.0" height="5.0" fill="#ff0000"/><rect x="186.8" y="142.9" width="5.0" height="5.0" fill="#ff0000"/><rect x="188.9" y="141.2" width="5.0" height="5.0" fill="#ff0000"/><rect x="190.9" y="139.6" width="5.0" height="5.0" fill="#ff0000"/><rect x="193.0" y="137.9" width="5.0" height="5.0" fill="#ff0000"/><rect x="194.7" y="135.8" width="5.0" height="5.0" fill="#ff0000"/><rect x="196.4" y="133.7" width="5.0" height="5.0" fill="#ff0000"/><rect x="198.1" y="131.6" width="5.0" height="5.0" fill="#ff0000"/><rect x="199.7" y="129.7" width="5.0" height="5.0" fill="#ff0000"/><rect x="201.2" y="127.8" width="5.0" height="5.0" fill="#ff0000"/><rect x="202.8" y="126.0" width="5.0" height="5.0" fill="#ff0000"/><rect x="204.3" y="124.1" width="5.0" height="5.0" fill="#ff0000"/><rect x="207.2" y="122.4" width="5.0" height="5.0" fill="#ff0000"/><rect x="210.2" y="120.8" width="5.0" height="5.0" fill="#ff0000"/><rect x="213.1" y="119.1" width="5.0" height="5.0" fill="#ff0000"/><rect x="214.6" y="117.1" width="5.0" height="5.0" fill="#ff0000"/><rect x="213.9" y="115.1" width="5.0" height="5.0" fill="#ff0000"/><rect x="214.6" y="113.1" width="5.0" height="5.0" fill="#ff0000"/><rect x="215.6" y="111.1" width="5.0" height="5.0" fill="#ff0000"/><rect x="218.1" y="109.9" width="5.0" height="5.0" fill="#ff0000"/><rect x="220.7" y="108.7" width="5.0" height="5.0" fill="#ff0000"/><rect x="223.2" y="107.5" width="5.0" height="5.0" fill="#ff0000"/><rect x="223.6" y="105.8" width="5.0" height="5.0" fill="#ff0000"/><rect x="223.9" y="104.2" width="5.0" height="5.0" fill="#ff0000"/><rect x="225.5" y="102.5" width="5.0" height="5.0" fill="#ff0000"/><rect x="226.0" y="100.8" width="5.0" height="5.0" fill="#ff0000"/><rect x="227.7" y="99.0" width="5.0" height="5.0" fill="#ff0000"/><rect x="227.6" y="97.3" width="5.0" height="5.0" fill="#ff0000"/><rect x="228.1" y="95.2" width="5.0" height="5.0" fill="#ff0000"/><rect x="228.3" y="93.2" width="5.0" height="5.0" fill="#ff0000"/><rect x="228.6" y="91.1" width="5.0" height="5.0" fill="#ff0000"/><rect x="229.3" y="89.1" width="5.0" height="5.0" fill="#ff0000"/><rect x="229.8" y="87.0" width="5.0" height="5.0" fill="#ff0000"/><rect x="233.1" y="85.2" width="5.0" height="5.0" fill="#ff0000"/><rect x="236.4" y="83.4" width="5.0" height="5.0" fill="#ff0000"/><rect x="239.3" y="82.7" width="5.0" height="5.0" fill="#ff0000"/><rect x="242.3" y="81.9" width="5.0" height="5.0" fill="#ff0000"/><rect x="245.2" y="81.2" width="5.0" height="5.0" fill="#ff0000"/><rect x="247.4" y="79.0" width="5.0" height="5.0" fill="#ff0000"/><rect x="249.6" y="76.8" width="5.0" height="5.0" fill="#ff0000"/><rect x="252.7" y="76.2" width="5.0" height="5.0" fill="#ff0000"/><rect x="255.8" y="75.7" width="5.0" height="5.0" fill="#ff0000"/><rect x="258.9" y="75.1" width="5.0" height="5.0" fill="#ff0000"/><rect x="262.0" y="74.6" width="5.0" height="5.0" fill="#ff0000"/><rect x="264.2" y="73.2" width="5.0" height="5.0" fill="#ff0000"/><rect x="266.4" y="71.7" width="5.0" height="5.0" fill="#ff0000"/><rect x="268.1" y="70.0" width="5.0" height="5.0" fill="#ff0000"/><rect x="269.8" y="68.2" width="5.0" height="5.0" fill="#ff0000"/><rect x="271.5" y="66.5" width="5.0" height="5.0" fill="#ff0000"/><rect x="307.3" y="65.7" width="3.8" height="3.8" fill="none" stroke="#ff0000" stroke-width="1.7"/><rect x="317.5" y="63.3" width="3.8" height="3.8" fill="none" stroke="#ff0000" stroke-width="1.7"/><rect x="330.5" y="54.3" width="3.8" height="3.8" fill="none" stroke="#ff0000" stroke-width="1.7"/><rect x="331.2" y="51.9" width="3.8" height="3.8" fill="none" stroke="#ff0000" stroke-width="1.7"/><rect x="332.0" y="49.4" width="3.8" height="3.8" fill="none" stroke="#ff0000" stroke-width="1.7"/><rect x="332.7" y="47.0" width="3.8" height="3.8" fill="none" stroke="#ff0000" stroke-width="1.7"/><rect x="334.2" y="44.6" width="3.8" height="3.8" fill="none" stroke="#ff0000" stroke-width="1.7"/><rect x="335.6" y="42.1" width="3.8" height="3.8" fill="none" stroke="#ff0000" stroke-width="1.7"/><rect x="337.1" y="39.7" width="3.8" height="3.8" fill="none" stroke="#ff0000" stroke-width="1.7"/><rect x="338.3" y="37.3" width="3.8" height="3.8" fill="none" stroke="#ff0000" stroke-width="1.7"/><rect x="339.6" y="34.8" width="3.8" height="3.8" fill="none" stroke="#ff0000" stroke-width="1.7"/><rect x="340.8" y="32.4" width="3.8" height="3.8" fill="none" stroke="#ff0000" stroke-width="1.7"/><rect x="344.1" y="31.3" width="3.8" height="3.8" fill="none" stroke="#ff0000" stroke-width="1.7"/><rect x="347.4" y="30.2" width="3.8" height="3.8" fill="none" stroke="#ff0000" stroke-width="1.7"/><rect x="349.2" y="28.4" width="3.8" height="3.8" fill="none" stroke="#ff0000" stroke-width="1.7"/><rect x="351.0" y="26.5" width="3.8" height="3.8" fill="none" stroke="#ff0000" stroke-width="1.7"/><rect x="352.5" y="24.6" width="3.8" height="3.8" fill="none" stroke="#ff0000" stroke-width="1.7"/><rect x="353.9" y="22.6" width="3.8" height="3.8" fill="none" stroke="#ff0000" stroke-width="1.7"/><rect x="355.4" y="20.7" width="3.8" height="3.8" fill="none" stroke="#ff0000" stroke-width="1.7"/><rect x="358.7" y="19.6" width="3.8" height="3.8" fill="none" stroke="#ff0000" stroke-width="1.7"/><rect x="362.0" y="18.5" width="3.8" height="3.8" fill="none" stroke="#ff0000" stroke-width="1.7"/><rect x="379.6" y="17.0" width="3.8" height="3.8" fill="none" stroke="#ff0000" stroke-width="1.7"/><rect x="381.8" y="15.5" width="3.8" height="3.8" fill="none" stroke="#ff0000" stroke-width="1.7"/><rect x="384.0" y="14.1" width="3.8" height="3.8" fill="none" stroke="#ff0000" stroke-width="1.7"/><rect x="386.2" y="11.5" width="3.8" height="3.8" fill="none" stroke="#ff0000" stroke-width="1.7"/><rect x="388.4" y="9.0" width="3.8" height="3.8" fill="none" stroke="#ff0000" stroke-width="1.7"/></g>
<path d="M77.6 418.0 L77.6 357.7 L82.6 354.0 L85.1 332.6 L91.3 325.1 L92.6 323.0 L93.3 287.9 L97.6 267.8 L105.1 257.7 L113.9 247.7 L117.7 230.1 L124.0 215.1 L126.5 210.5 L131.5 206.7 L137.8 200.4 L144.1 195.4 L150.3 187.9 L156.6 175.3 L160.4 162.8 L164.2 150.2 L166.7 135.1 L172.9 131.4 L178.0 120.1 L185.5 112.6 L186.7 102.5 L205.6 101.3 L207.6 97.1 L214.9 91.2 L219.3 85.4 L230.9 80.7 L242.6 79.3 L250.6 77.1 L260.5 75.2 L263.8 74.2 L267.5 71.2 L287.2 69.0 L302.3 66.8 L309.9 63.2 L316.5 59.5 L323.1 55.9 L328.8 50.4 L353.0 49.7 L355.0 47.2 L357.2 44.6 L359.5 42.0 L371.0 39.8 L388.8 35.7 L403.7 32.9 L407.3 30.0 L413.2 27.1 L427.1 24.9 L428.6 22.0 L439.5 21.2 L446.9 18.3 L452.7 15.4 L455.6 12.4 L505.1 10.5" fill="none" stroke="#00ff00" stroke-width="1.8" stroke-dasharray="6 6.5" stroke-linejoin="round"/>
<g><path d="M77.6 412.3L81.0 418.0L77.6 423.7L74.1 418.0Z" fill="#00ff00"/><path d="M77.6 409.9L81.0 415.6L77.6 421.3L74.1 415.6Z" fill="#00ff00"/><path d="M77.6 407.5L81.0 413.2L77.6 418.9L74.1 413.2Z" fill="#00ff00"/><path d="M77.6 405.1L81.0 410.8L77.6 416.5L74.1 410.8Z" fill="#00ff00"/><path d="M77.6 402.7L81.0 408.4L77.6 414.1L74.1 408.4Z" fill="#00ff00"/><path d="M77.6 400.2L81.0 405.9L77.6 411.6L74.1 405.9Z" fill="#00ff00"/><path d="M77.6 397.8L81.0 403.5L77.6 409.2L74.1 403.5Z" fill="#00ff00"/><path d="M77.6 395.4L81.0 401.1L77.6 406.8L74.1 401.1Z" fill="#00ff00"/><path d="M77.6 393.0L81.0 398.7L77.6 404.4L74.1 398.7Z" fill="#00ff00"/><path d="M77.6 390.6L81.0 396.3L77.6 402.0L74.1 396.3Z" fill="#00ff00"/><path d="M77.6 388.2L81.0 393.9L77.6 399.6L74.1 393.9Z" fill="#00ff00"/><path d="M77.6 385.8L81.0 391.5L77.6 397.2L74.1 391.5Z" fill="#00ff00"/><path d="M77.6 383.4L81.0 389.1L77.6 394.8L74.1 389.1Z" fill="#00ff00"/><path d="M77.6 380.9L81.0 386.6L77.6 392.3L74.1 386.6Z" fill="#00ff00"/><path d="M77.6 378.5L81.0 384.2L77.6 389.9L74.1 384.2Z" fill="#00ff00"/><path d="M77.6 376.1L81.0 381.8L77.6 387.5L74.1 381.8Z" fill="#00ff00"/><path d="M77.6 373.7L81.0 379.4L77.6 385.1L74.1 379.4Z" fill="#00ff00"/><path d="M77.6 371.3L81.0 377.0L77.6 382.7L74.1 377.0Z" fill="#00ff00"/><path d="M77.6 368.9L81.0 374.6L77.6 380.3L74.1 374.6Z" fill="#00ff00"/><path d="M77.6 366.5L81.0 372.2L77.6 377.9L74.1 372.2Z" fill="#00ff00"/><path d="M77.6 364.1L81.0 369.8L77.6 375.5L74.1 369.8Z" fill="#00ff00"/><path d="M77.6 361.6L81.0 367.3L77.6 373.0L74.1 367.3Z" fill="#00ff00"/><path d="M77.6 359.2L81.0 364.9L77.6 370.6L74.1 364.9Z" fill="#00ff00"/><path d="M77.6 356.8L81.0 362.5L77.6 368.2L74.1 362.5Z" fill="#00ff00"/><path d="M77.6 354.4L81.0 360.1L77.6 365.8L74.1 360.1Z" fill="#00ff00"/><path d="M77.6 352.0L81.0 357.7L77.6 363.4L74.1 357.7Z" fill="#00ff00"/><path d="M80.1 350.2L83.5 355.9L80.1 361.6L76.6 355.9Z" fill="#00ff00"/><path d="M82.6 348.3L86.0 354.0L82.6 359.7L79.1 354.0Z" fill="#00ff00"/><path d="M82.0 345.9L85.5 351.6L82.0 357.3L78.6 351.6Z" fill="#00ff00"/><path d="M83.2 343.5L86.7 349.2L83.2 354.9L79.8 349.2Z" fill="#00ff00"/><path d="M83.8 341.2L87.2 346.9L83.8 352.6L80.3 346.9Z" fill="#00ff00"/><path d="M83.8 338.8L87.2 344.5L83.8 350.2L80.3 344.5Z" fill="#00ff00"/><path d="M83.0 336.4L86.5 342.1L83.0 347.8L79.6 342.1Z" fill="#00ff00"/><path d="M85.2 334.0L88.7 339.7L85.2 345.4L81.8 339.7Z" fill="#00ff00"/><path d="M83.6 331.7L87.1 337.4L83.6 343.1L80.2 337.4Z" fill="#00ff00"/><path d="M84.3 329.3L87.7 335.0L84.3 340.7L80.8 335.0Z" fill="#00ff00"/><path d="M85.1 326.9L88.5 332.6L85.1 338.3L81.6 332.6Z" fill="#00ff00"/><path d="M86.6 325.0L90.1 330.7L86.6 336.4L83.2 330.7Z" fill="#00ff00"/><path d="M88.2 323.2L91.6 328.9L88.2 334.6L84.7 328.9Z" fill="#00ff00"/><path d="M89.8 321.3L93.2 327.0L89.8 332.7L86.3 327.0Z" fill="#00ff00"/><path d="M91.3 319.4L94.8 325.1L91.3 330.8L87.8 325.1Z" fill="#00ff00"/><path d="M92.6 317.3L96.0 323.0L92.6 328.7L89.1 323.0Z" fill="#00ff00"/><path d="M92.1 315.0L95.5 320.7L92.1 326.4L88.6 320.7Z" fill="#00ff00"/><path d="M91.8 312.6L95.3 318.3L91.8 324.0L88.4 318.3Z" fill="#00ff00"/><path d="M93.5 310.3L96.9 316.0L93.5 321.7L90.0 316.0Z" fill="#00ff00"/><path d="M93.1 307.9L96.6 313.6L93.1 319.3L89.7 313.6Z" fill="#00ff00"/><path d="M93.3 305.6L96.7 311.3L93.3 317.0L89.8 311.3Z" fill="#00ff00"/><path d="M92.9 303.3L96.3 309.0L92.9 314.7L89.4 309.0Z" fill="#00ff00"/><path d="M93.0 300.9L96.4 306.6L93.0 312.3L89.5 306.6Z" fill="#00ff00"/><path d="M92.9 298.6L96.3 304.3L92.9 310.0L89.4 304.3Z" fill="#00ff00"/><path d="M93.2 296.2L96.6 301.9L93.2 307.6L89.7 301.9Z" fill="#00ff00"/><path d="M93.3 293.9L96.7 299.6L93.3 305.3L89.8 299.6Z" fill="#00ff00"/><path d="M92.3 291.6L95.8 297.3L92.3 303.0L88.9 297.3Z" fill="#00ff00"/><path d="M93.1 289.2L96.6 294.9L93.1 300.6L89.7 294.9Z" fill="#00ff00"/><path d="M93.8 286.9L97.3 292.6L93.8 298.3L90.4 292.6Z" fill="#00ff00"/><path d="M94.0 284.5L97.5 290.2L94.0 295.9L90.6 290.2Z" fill="#00ff00"/><path d="M93.3 282.2L96.8 287.9L93.3 293.6L89.8 287.9Z" fill="#00ff00"/><path d="M94.6 280.0L98.1 285.7L94.6 291.4L91.2 285.7Z" fill="#00ff00"/><path d="M94.8 277.7L98.2 283.4L94.8 289.1L91.3 283.4Z" fill="#00ff00"/><path d="M95.4 275.5L98.8 281.2L95.4 286.9L91.9 281.2Z" fill="#00ff00"/><path d="M95.0 273.3L98.4 279.0L95.0 284.7L91.5 279.0Z" fill="#00ff00"/><path d="M96.3 271.0L99.7 276.7L96.3 282.4L92.8 276.7Z" fill="#00ff00"/><path d="M96.9 268.8L100.3 274.5L96.9 280.2L93.4 274.5Z" fill="#00ff00"/><path d="M97.2 266.6L100.7 272.3L97.2 278.0L93.8 272.3Z" fill="#00ff00"/><path d="M97.6 264.3L101.0 270.0L97.6 275.7L94.1 270.0Z" fill="#00ff00"/><path d="M97.6 262.1L101.0 267.8L97.6 273.5L94.1 267.8Z" fill="#00ff00"/><path d="M99.1 260.1L102.5 265.8L99.1 271.5L95.6 265.8Z" fill="#00ff00"/><path d="M100.6 258.1L104.0 263.8L100.6 269.5L97.1 263.8Z" fill="#00ff00"/><path d="M102.1 256.0L105.5 261.7L102.1 267.4L98.6 261.7Z" fill="#00ff00"/><path d="M103.6 254.0L107.0 259.7L103.6 265.4L100.1 259.7Z" fill="#00ff00"/><path d="M105.1 252.0L108.5 257.7L105.1 263.4L101.6 257.7Z" fill="#00ff00"/><path d="M106.9 250.0L110.3 255.7L106.9 261.4L103.4 255.7Z" fill="#00ff00"/><path d="M108.6 248.0L112.1 253.7L108.6 259.4L105.2 253.7Z" fill="#00ff00"/><path d="M110.4 246.0L113.8 251.7L110.4 257.4L106.9 251.7Z" fill="#00ff00"/><path d="M112.1 244.0L115.6 249.7L112.1 255.4L108.7 249.7Z" fill="#00ff00"/><path d="M113.9 242.0L117.4 247.7L113.9 253.4L110.5 247.7Z" fill="#00ff00"/><path d="M113.4 239.8L116.9 245.5L113.4 251.2L110.0 245.5Z" fill="#00ff00"/><path d="M115.4 237.6L118.9 243.3L115.4 249.0L112.0 243.3Z" fill="#00ff00"/><path d="M115.1 235.4L118.5 241.1L115.1 246.8L111.6 241.1Z" fill="#00ff00"/><path d="M116.3 233.2L119.8 238.9L116.3 244.6L112.9 238.9Z" fill="#00ff00"/><path d="M117.1 231.0L120.6 236.7L117.1 242.4L113.7 236.7Z" fill="#00ff00"/><path d="M116.2 228.8L119.7 234.5L116.2 240.2L112.8 234.5Z" fill="#00ff00"/><path d="M117.9 226.6L121.4 232.3L117.9 238.0L114.5 232.3Z" fill="#00ff00"/><path d="M117.7 224.4L121.2 230.1L117.7 235.8L114.2 230.1Z" fill="#00ff00"/><path d="M118.4 222.3L121.9 228.0L118.4 233.7L115.0 228.0Z" fill="#00ff00"/><path d="M120.5 220.1L123.9 225.8L120.5 231.5L117.0 225.8Z" fill="#00ff00"/><path d="M120.5 218.0L124.0 223.7L120.5 229.4L117.1 223.7Z" fill="#00ff00"/><path d="M121.6 215.8L125.0 221.5L121.6 227.2L118.1 221.5Z" fill="#00ff00"/><path d="M122.7 213.7L126.2 219.4L122.7 225.1L119.3 219.4Z" fill="#00ff00"/><path d="M122.9 211.5L126.3 217.2L122.9 222.9L119.4 217.2Z" fill="#00ff00"/><path d="M124.0 209.4L127.5 215.1L124.0 220.8L120.5 215.1Z" fill="#00ff00"/><path d="M125.1 207.1L128.6 212.8L125.1 218.5L121.7 212.8Z" fill="#00ff00"/><path d="M126.5 204.8L129.9 210.5L126.5 216.2L123.0 210.5Z" fill="#00ff00"/><path d="M129.0 202.9L132.4 208.6L129.0 214.3L125.5 208.6Z" fill="#00ff00"/><path d="M131.5 201.0L134.9 206.7L131.5 212.4L128.1 206.7Z" fill="#00ff00"/><path d="M133.6 198.9L137.0 204.6L133.6 210.3L130.2 204.6Z" fill="#00ff00"/><path d="M135.7 196.8L139.2 202.5L135.7 208.2L132.3 202.5Z" fill="#00ff00"/><path d="M137.8 194.7L141.2 200.4L137.8 206.1L134.4 200.4Z" fill="#00ff00"/><path d="M139.9 193.0L143.3 198.7L139.9 204.4L136.5 198.7Z" fill="#00ff00"/><path d="M142.0 191.4L145.4 197.1L142.0 202.8L138.6 197.1Z" fill="#00ff00"/><path d="M144.1 189.7L147.5 195.4L144.1 201.1L140.7 195.4Z" fill="#00ff00"/><path d="M145.7 187.8L149.1 193.5L145.7 199.2L142.2 193.5Z" fill="#00ff00"/><path d="M147.2 186.0L150.6 191.7L147.2 197.3L143.8 191.7Z" fill="#00ff00"/><path d="M148.8 184.1L152.2 189.8L148.8 195.5L145.3 189.8Z" fill="#00ff00"/><path d="M150.3 182.2L153.8 187.9L150.3 193.6L146.9 187.9Z" fill="#00ff00"/><path d="M150.9 180.1L154.4 185.8L150.9 191.5L147.5 185.8Z" fill="#00ff00"/><path d="M151.5 178.0L154.9 183.7L151.5 189.4L148.0 183.7Z" fill="#00ff00"/><path d="M153.7 175.9L157.2 181.6L153.7 187.3L150.3 181.6Z" fill="#00ff00"/><path d="M154.6 173.8L158.1 179.5L154.6 185.2L151.2 179.5Z" fill="#00ff00"/><path d="M155.6 171.7L159.1 177.4L155.6 183.1L152.2 177.4Z" fill="#00ff00"/><path d="M156.6 169.6L160.0 175.3L156.6 181.0L153.2 175.3Z" fill="#00ff00"/><path d="M156.7 167.5L160.1 173.2L156.7 178.9L153.2 173.2Z" fill="#00ff00"/><path d="M158.8 165.4L162.2 171.1L158.8 176.8L155.3 171.1Z" fill="#00ff00"/><path d="M159.1 163.4L162.6 169.1L159.1 174.8L155.7 169.1Z" fill="#00ff00"/><path d="M159.9 161.3L163.3 167.0L159.9 172.7L156.4 167.0Z" fill="#00ff00"/><path d="M159.0 159.2L162.4 164.9L159.0 170.6L155.5 164.9Z" fill="#00ff00"/><path d="M160.4 157.1L163.8 162.8L160.4 168.5L157.0 162.8Z" fill="#00ff00"/><path d="M161.9 155.0L165.3 160.7L161.9 166.4L158.4 160.7Z" fill="#00ff00"/><path d="M161.6 152.9L165.0 158.6L161.6 164.3L158.1 158.6Z" fill="#00ff00"/><path d="M162.2 150.8L165.6 156.5L162.2 162.2L158.7 156.5Z" fill="#00ff00"/><path d="M162.6 148.7L166.0 154.4L162.6 160.1L159.1 154.4Z" fill="#00ff00"/><path d="M163.7 146.6L167.1 152.3L163.7 158.0L160.2 152.3Z" fill="#00ff00"/><path d="M164.2 144.5L167.6 150.2L164.2 155.9L160.8 150.2Z" fill="#00ff00"/><path d="M164.5 142.3L168.0 148.0L164.5 153.7L161.1 148.0Z" fill="#00ff00"/><path d="M165.1 140.2L168.5 145.9L165.1 151.6L161.6 145.9Z" fill="#00ff00"/><path d="M165.8 138.0L169.2 143.7L165.8 149.4L162.3 143.7Z" fill="#00ff00"/><path d="M166.6 135.9L170.0 141.6L166.6 147.3L163.1 141.6Z" fill="#00ff00"/><path d="M166.9 133.7L170.3 139.4L166.9 145.1L163.4 139.4Z" fill="#00ff00"/><path d="M166.9 131.6L170.3 137.3L166.9 143.0L163.4 137.3Z" fill="#00ff00"/><path d="M166.7 129.4L170.1 135.1L166.7 140.8L163.2 135.1Z" fill="#00ff00"/><path d="M169.8 127.5L173.2 133.2L169.8 138.9L166.4 133.2Z" fill="#00ff00"/><path d="M172.9 125.7L176.3 131.4L172.9 137.1L169.5 131.4Z" fill="#00ff00"/><path d="M174.0 123.4L177.4 129.1L174.0 134.8L170.5 129.1Z" fill="#00ff00"/><path d="M174.5 121.2L178.0 126.9L174.5 132.6L171.1 126.9Z" fill="#00ff00"/><path d="M176.5 118.9L180.0 124.6L176.5 130.3L173.1 124.6Z" fill="#00ff00"/><path d="M176.2 116.7L179.6 122.4L176.2 128.1L172.7 122.4Z" fill="#00ff00"/><path d="M178.0 114.4L181.4 120.1L178.0 125.8L174.6 120.1Z" fill="#00ff00"/><path d="M179.9 112.5L183.3 118.2L179.9 123.9L176.4 118.2Z" fill="#00ff00"/><path d="M181.8 110.6L185.2 116.3L181.8 122.0L178.3 116.3Z" fill="#00ff00"/><path d="M183.6 108.8L187.1 114.5L183.6 120.2L180.2 114.5Z" fill="#00ff00"/><path d="M185.5 106.9L188.9 112.6L185.5 118.3L182.1 112.6Z" fill="#00ff00"/><path d="M185.0 104.9L188.5 110.6L185.0 116.3L181.6 110.6Z" fill="#00ff00"/><path d="M185.8 102.9L189.2 108.6L185.8 114.3L182.3 108.6Z" fill="#00ff00"/><path d="M185.2 100.8L188.7 106.5L185.2 112.2L181.8 106.5Z" fill="#00ff00"/><path d="M186.3 98.8L189.7 104.5L186.3 110.2L182.8 104.5Z" fill="#00ff00"/><path d="M186.7 96.8L190.1 102.5L186.7 108.2L183.2 102.5Z" fill="#00ff00"/><path d="M205.6 95.6L209.0 101.3L205.6 107.0L202.2 101.3Z" fill="#00ff00"/><path d="M206.0 93.5L209.4 99.2L206.0 104.9L202.5 99.2Z" fill="#00ff00"/><path d="M207.6 91.4L211.0 97.1L207.6 102.8L204.2 97.1Z" fill="#00ff00"/><path d="M210.0 89.4L213.5 95.1L210.0 100.8L206.6 95.1Z" fill="#00ff00"/><path d="M212.5 87.5L215.9 93.2L212.5 98.9L209.0 93.2Z" fill="#00ff00"/><path d="M214.9 85.5L218.3 91.2L214.9 96.9L211.5 91.2Z" fill="#00ff00"/><path d="M216.4 83.6L219.8 89.3L216.4 95.0L212.9 89.3Z" fill="#00ff00"/><path d="M217.8 81.6L221.3 87.3L217.8 93.0L214.4 87.3Z" fill="#00ff00"/><path d="M219.3 79.7L222.8 85.4L219.3 91.1L215.9 85.4Z" fill="#00ff00"/><path d="M230.9 75.0L234.3 80.7L230.9 86.4L227.5 80.7Z" fill="#00ff00"/><path d="M242.6 73.6L246.0 79.3L242.6 85.0L239.2 79.3Z" fill="#00ff00"/><path d="M250.6 71.4L254.0 77.1L250.6 82.8L247.2 77.1Z" fill="#00ff00"/><path d="M260.5 69.5L263.9 75.2L260.5 80.9L257.1 75.2Z" fill="#00ff00"/><path d="M263.8 68.5L267.2 74.2L263.8 79.9L260.4 74.2Z" fill="#00ff00"/><path d="M267.5 65.5L270.9 71.2L267.5 76.9L264.1 71.2Z" fill="#00ff00"/><path d="M287.2 63.3L290.6 69.0L287.2 74.7L283.8 69.0Z" fill="#00ff00"/><path d="M302.3 61.1L305.8 66.8L302.3 72.5L298.9 66.8Z" fill="#00ff00"/><path d="M309.9 57.5L313.3 63.2L309.9 68.9L306.4 63.2Z" fill="#00ff00"/><path d="M316.5 53.8L319.9 59.5L316.5 65.2L313.1 59.5Z" fill="#00ff00"/><path d="M323.1 50.2L326.6 55.9L323.1 61.6L319.7 55.9Z" fill="#00ff00"/><path d="M326.0 47.4L329.4 53.1L326.0 58.9L322.5 53.1Z" fill="#00ff00"/><path d="M328.8 44.7L332.2 50.4L328.8 56.1L325.4 50.4Z" fill="#00ff00"/><path d="M353.0 44.0L356.4 49.7L353.0 55.4L349.6 49.7Z" fill="#00ff00"/><path d="M355.0 41.5L358.4 47.2L355.0 52.9L351.6 47.2Z" fill="#00ff00"/><path d="M357.2 38.9L360.6 44.6L357.2 50.3L353.8 44.6Z" fill="#00ff00"/><path d="M359.5 36.3L362.9 42.0L359.5 47.7L356.1 42.0Z" fill="#00ff00"/><path d="M371.0 34.1L374.4 39.8L371.0 45.5L367.6 39.8Z" fill="#00ff00"/><path d="M388.8 30.0L392.2 35.7L388.8 41.4L385.4 35.7Z" fill="#00ff00"/><path d="M403.7 27.2L407.1 32.9L403.7 38.6L400.2 32.9Z" fill="#00ff00"/><path d="M407.3 24.3L410.8 30.0L407.3 35.7L403.9 30.0Z" fill="#00ff00"/><path d="M413.2 21.4L416.6 27.1L413.2 32.8L409.8 27.1Z" fill="#00ff00"/><path d="M427.1 19.2L430.6 24.9L427.1 30.6L423.7 24.9Z" fill="#00ff00"/><path d="M428.6 16.3L432.1 22.0L428.6 27.7L425.2 22.0Z" fill="#00ff00"/><path d="M439.5 15.5L442.9 21.2L439.5 26.9L436.1 21.2Z" fill="#00ff00"/><path d="M446.9 12.6L450.3 18.3L446.9 24.0L443.4 18.3Z" fill="#00ff00"/><path d="M452.7 9.7L456.1 15.4L452.7 21.1L449.2 15.4Z" fill="#00ff00"/><path d="M455.6 6.7L459.1 12.4L455.6 18.1L452.2 12.4Z" fill="#00ff00"/><path d="M505.1 4.8L508.6 10.5L505.1 16.2L501.7 10.5Z" fill="#00ff00"/></g>
<path d="M78.8 420.0 L94.2 418.5 L111.7 415.9 L115.4 411.5 L123.4 407.8 L130.8 401.2 L134.4 395.4 L137.3 386.6 L138.1 379.3 L144.7 372.0 L153.5 364.6 L159.3 358.8 L163.7 351.5 L166.7 340.2 L172.9 320.1 L175.4 308.0 L180.5 295.4 L183.0 272.8 L189.3 260.3 L194.2 240.2 L196.7 233.7 L199.0 212.8 L201.3 201.2 L204.8 189.6 L206.0 173.4 L210.6 166.4 L212.9 152.5 L218.7 143.2 L219.9 133.9 L221.8 120.0 L222.3 112.0 L223.8 100.0 L227.9 76.7 L231.2 48.9 L233.0 36.0 L235.0 32.5 L238.2 31.4 L247.0 30.6 L257.9 28.4 L260.9 24.0 L263.8 21.8 L266.4 20.6 L268.9 19.6 L271.9 16.0 L273.4 14.1 L274.8 12.3 L299.7 11.1" fill="none" stroke="#000000" stroke-width="1.3" stroke-dasharray="1.4 1.6" stroke-linejoin="round"/>
<g><path d="M74.5 416.7L83.1 416.7L78.8 424.8Z" fill="#000000"/><path d="M89.9 415.2L98.5 415.2L94.2 423.3Z" fill="#000000"/><path d="M107.4 412.6L116.0 412.6L111.7 420.7Z" fill="#000000"/><path d="M109.3 410.4L117.9 410.4L113.6 418.5Z" fill="#000000"/><path d="M111.1 408.2L119.7 408.2L115.4 416.3Z" fill="#000000"/><path d="M113.8 407.0L122.4 407.0L118.1 415.1Z" fill="#000000"/><path d="M116.4 405.7L125.0 405.7L120.7 413.8Z" fill="#000000"/><path d="M119.1 404.5L127.7 404.5L123.4 412.6Z" fill="#000000"/><path d="M121.6 402.3L130.2 402.3L125.9 410.4Z" fill="#000000"/><path d="M124.0 400.1L132.6 400.1L128.3 408.2Z" fill="#000000"/><path d="M126.5 397.9L135.1 397.9L130.8 406.0Z" fill="#000000"/><path d="M127.1 396.0L135.7 396.0L131.4 404.1Z" fill="#000000"/><path d="M128.0 394.0L136.6 394.0L132.3 402.1Z" fill="#000000"/><path d="M130.1 392.1L138.7 392.1L134.4 400.2Z" fill="#000000"/><path d="M131.7 389.9L140.3 389.9L136.0 398.0Z" fill="#000000"/><path d="M132.0 387.7L140.6 387.7L136.3 395.8Z" fill="#000000"/><path d="M132.9 385.5L141.5 385.5L137.2 393.6Z" fill="#000000"/><path d="M133.0 383.3L141.6 383.3L137.3 391.4Z" fill="#000000"/><path d="M133.0 380.9L141.6 380.9L137.3 389.0Z" fill="#000000"/><path d="M132.7 378.4L141.3 378.4L137.0 386.5Z" fill="#000000"/><path d="M133.8 376.0L142.4 376.0L138.1 384.1Z" fill="#000000"/><path d="M136.0 373.6L144.6 373.6L140.3 381.7Z" fill="#000000"/><path d="M138.2 371.1L146.8 371.1L142.5 379.2Z" fill="#000000"/><path d="M140.4 368.7L149.0 368.7L144.7 376.8Z" fill="#000000"/><path d="M143.3 366.2L151.9 366.2L147.6 374.3Z" fill="#000000"/><path d="M146.3 363.8L154.9 363.8L150.6 371.9Z" fill="#000000"/><path d="M149.2 361.3L157.8 361.3L153.5 369.4Z" fill="#000000"/><path d="M151.1 359.4L159.7 359.4L155.4 367.5Z" fill="#000000"/><path d="M153.1 357.4L161.7 357.4L157.4 365.5Z" fill="#000000"/><path d="M155.0 355.5L163.6 355.5L159.3 363.6Z" fill="#000000"/><path d="M156.3 353.1L164.9 353.1L160.6 361.2Z" fill="#000000"/><path d="M157.8 350.6L166.4 350.6L162.1 358.7Z" fill="#000000"/><path d="M159.4 348.2L168.0 348.2L163.7 356.3Z" fill="#000000"/><path d="M160.4 345.9L169.0 345.9L164.7 354.0Z" fill="#000000"/><path d="M160.7 343.7L169.3 343.7L165.0 351.8Z" fill="#000000"/><path d="M161.1 341.4L169.7 341.4L165.4 349.5Z" fill="#000000"/><path d="M161.5 339.2L170.1 339.2L165.8 347.3Z" fill="#000000"/><path d="M162.4 336.9L171.0 336.9L166.7 345.0Z" fill="#000000"/><path d="M163.2 334.7L171.8 334.7L167.5 342.8Z" fill="#000000"/><path d="M164.4 332.4L173.0 332.4L168.7 340.5Z" fill="#000000"/><path d="M164.3 330.2L172.9 330.2L168.6 338.3Z" fill="#000000"/><path d="M165.7 328.0L174.3 328.0L170.0 336.1Z" fill="#000000"/><path d="M165.3 325.7L173.9 325.7L169.6 333.8Z" fill="#000000"/><path d="M165.9 323.5L174.5 323.5L170.2 331.6Z" fill="#000000"/><path d="M167.6 321.3L176.2 321.3L171.9 329.4Z" fill="#000000"/><path d="M168.6 319.0L177.2 319.0L172.9 327.1Z" fill="#000000"/><path d="M168.6 316.8L177.2 316.8L172.9 324.9Z" fill="#000000"/><path d="M168.2 314.4L176.8 314.4L172.5 322.5Z" fill="#000000"/><path d="M169.1 312.0L177.7 312.0L173.4 320.1Z" fill="#000000"/><path d="M170.3 309.5L178.9 309.5L174.6 317.6Z" fill="#000000"/><path d="M170.5 307.1L179.1 307.1L174.8 315.2Z" fill="#000000"/><path d="M171.1 304.7L179.7 304.7L175.4 312.8Z" fill="#000000"/><path d="M172.3 302.6L180.9 302.6L176.6 310.7Z" fill="#000000"/><path d="M173.7 300.5L182.3 300.5L178.0 308.6Z" fill="#000000"/><path d="M173.0 298.4L181.6 298.4L177.3 306.5Z" fill="#000000"/><path d="M174.7 296.3L183.3 296.3L179.0 304.4Z" fill="#000000"/><path d="M174.5 294.2L183.1 294.2L178.8 302.3Z" fill="#000000"/><path d="M176.2 292.1L184.8 292.1L180.5 300.2Z" fill="#000000"/><path d="M176.0 289.8L184.6 289.8L180.3 297.9Z" fill="#000000"/><path d="M175.8 287.6L184.4 287.6L180.1 295.7Z" fill="#000000"/><path d="M177.2 285.3L185.8 285.3L181.5 293.4Z" fill="#000000"/><path d="M177.3 283.1L185.9 283.1L181.6 291.2Z" fill="#000000"/><path d="M177.5 280.8L186.1 280.8L181.8 288.9Z" fill="#000000"/><path d="M178.6 278.5L187.2 278.5L182.9 286.6Z" fill="#000000"/><path d="M178.4 276.3L187.0 276.3L182.7 284.4Z" fill="#000000"/><path d="M177.3 274.0L185.9 274.0L181.6 282.1Z" fill="#000000"/><path d="M178.1 271.8L186.7 271.8L182.4 279.9Z" fill="#000000"/><path d="M178.7 269.5L187.3 269.5L183.0 277.6Z" fill="#000000"/><path d="M179.2 267.4L187.8 267.4L183.5 275.5Z" fill="#000000"/><path d="M181.7 265.3L190.3 265.3L186.0 273.4Z" fill="#000000"/><path d="M182.5 263.2L191.1 263.2L186.8 271.4Z" fill="#000000"/><path d="M183.6 261.2L192.2 261.2L187.9 269.3Z" fill="#000000"/><path d="M183.2 259.1L191.8 259.1L187.5 267.2Z" fill="#000000"/><path d="M185.0 257.0L193.6 257.0L189.3 265.1Z" fill="#000000"/><path d="M186.4 254.8L195.0 254.8L190.7 262.9Z" fill="#000000"/><path d="M186.0 252.5L194.6 252.5L190.3 260.6Z" fill="#000000"/><path d="M186.5 250.3L195.1 250.3L190.8 258.4Z" fill="#000000"/><path d="M186.8 248.1L195.4 248.1L191.1 256.2Z" fill="#000000"/><path d="M187.8 245.8L196.4 245.8L192.1 253.9Z" fill="#000000"/><path d="M188.3 243.6L196.9 243.6L192.6 251.7Z" fill="#000000"/><path d="M188.4 241.4L197.0 241.4L192.7 249.5Z" fill="#000000"/><path d="M189.2 239.1L197.8 239.1L193.5 247.2Z" fill="#000000"/><path d="M189.9 236.9L198.5 236.9L194.2 245.0Z" fill="#000000"/><path d="M190.7 234.7L199.3 234.7L195.0 242.8Z" fill="#000000"/><path d="M191.7 232.6L200.3 232.6L196.0 240.7Z" fill="#000000"/><path d="M192.4 230.4L201.0 230.4L196.7 238.5Z" fill="#000000"/><path d="M192.5 228.1L201.1 228.1L196.8 236.2Z" fill="#000000"/><path d="M193.8 225.8L202.4 225.8L198.1 233.9Z" fill="#000000"/><path d="M194.0 223.4L202.6 223.4L198.3 231.5Z" fill="#000000"/><path d="M193.7 221.1L202.3 221.1L198.0 229.2Z" fill="#000000"/><path d="M194.4 218.8L203.0 218.8L198.7 226.9Z" fill="#000000"/><path d="M193.6 216.5L202.2 216.5L197.9 224.6Z" fill="#000000"/><path d="M193.6 214.1L202.2 214.1L197.9 222.2Z" fill="#000000"/><path d="M193.8 211.8L202.4 211.8L198.1 219.9Z" fill="#000000"/><path d="M194.7 209.5L203.3 209.5L199.0 217.6Z" fill="#000000"/><path d="M195.2 207.2L203.8 207.2L199.5 215.3Z" fill="#000000"/><path d="M195.2 204.9L203.8 204.9L199.5 213.0Z" fill="#000000"/><path d="M196.7 202.5L205.3 202.5L201.0 210.6Z" fill="#000000"/><path d="M195.7 200.2L204.3 200.2L200.0 208.3Z" fill="#000000"/><path d="M197.0 197.9L205.6 197.9L201.3 206.0Z" fill="#000000"/><path d="M197.4 195.6L206.0 195.6L201.7 203.7Z" fill="#000000"/><path d="M198.1 193.3L206.7 193.3L202.4 201.4Z" fill="#000000"/><path d="M199.6 190.9L208.2 190.9L203.9 199.0Z" fill="#000000"/><path d="M200.4 188.6L209.0 188.6L204.7 196.7Z" fill="#000000"/><path d="M200.5 186.3L209.1 186.3L204.8 194.4Z" fill="#000000"/><path d="M200.0 184.0L208.6 184.0L204.3 192.1Z" fill="#000000"/><path d="M200.6 181.7L209.2 181.7L204.9 189.8Z" fill="#000000"/><path d="M200.0 179.4L208.6 179.4L204.3 187.5Z" fill="#000000"/><path d="M201.0 177.0L209.6 177.0L205.3 185.1Z" fill="#000000"/><path d="M200.5 174.7L209.1 174.7L204.8 182.8Z" fill="#000000"/><path d="M201.0 172.4L209.6 172.4L205.3 180.5Z" fill="#000000"/><path d="M201.7 170.1L210.3 170.1L206.0 178.2Z" fill="#000000"/><path d="M202.4 167.8L211.0 167.8L206.7 175.9Z" fill="#000000"/><path d="M204.1 165.4L212.7 165.4L208.4 173.5Z" fill="#000000"/><path d="M206.3 163.1L214.9 163.1L210.6 171.2Z" fill="#000000"/><path d="M206.1 160.8L214.7 160.8L210.4 168.9Z" fill="#000000"/><path d="M206.3 158.5L214.9 158.5L210.6 166.6Z" fill="#000000"/><path d="M207.1 156.1L215.7 156.1L211.4 164.2Z" fill="#000000"/><path d="M208.5 153.8L217.1 153.8L212.8 161.9Z" fill="#000000"/><path d="M208.1 151.5L216.7 151.5L212.4 159.6Z" fill="#000000"/><path d="M208.6 149.2L217.2 149.2L212.9 157.3Z" fill="#000000"/><path d="M209.4 146.9L218.0 146.9L213.7 155.0Z" fill="#000000"/><path d="M211.3 144.5L219.9 144.5L215.6 152.7Z" fill="#000000"/><path d="M213.4 142.2L222.0 142.2L217.7 150.3Z" fill="#000000"/><path d="M214.4 139.9L223.0 139.9L218.7 148.0Z" fill="#000000"/><path d="M214.3 137.6L222.9 137.6L218.6 145.7Z" fill="#000000"/><path d="M215.7 135.2L224.3 135.2L220.0 143.4Z" fill="#000000"/><path d="M214.6 132.9L223.2 132.9L218.9 141.0Z" fill="#000000"/><path d="M215.6 130.6L224.2 130.6L219.9 138.7Z" fill="#000000"/><path d="M216.8 128.3L225.4 128.3L221.1 136.4Z" fill="#000000"/><path d="M217.1 126.0L225.7 126.0L221.4 134.1Z" fill="#000000"/><path d="M216.4 123.7L225.0 123.7L220.7 131.8Z" fill="#000000"/><path d="M216.8 121.3L225.4 121.3L221.1 129.4Z" fill="#000000"/><path d="M217.6 119.0L226.2 119.0L221.9 127.1Z" fill="#000000"/><path d="M217.5 116.7L226.1 116.7L221.8 124.8Z" fill="#000000"/><path d="M218.5 114.7L227.1 114.7L222.8 122.8Z" fill="#000000"/><path d="M217.3 112.7L225.9 112.7L221.6 120.8Z" fill="#000000"/><path d="M217.5 110.7L226.1 110.7L221.8 118.8Z" fill="#000000"/><path d="M218.0 108.7L226.6 108.7L222.3 116.8Z" fill="#000000"/><path d="M217.9 106.3L226.5 106.3L222.2 114.4Z" fill="#000000"/><path d="M218.5 103.9L227.1 103.9L222.8 112.0Z" fill="#000000"/><path d="M218.0 101.5L226.6 101.5L222.3 109.6Z" fill="#000000"/><path d="M219.1 99.1L227.7 99.1L223.4 107.2Z" fill="#000000"/><path d="M219.5 96.7L228.1 96.7L223.8 104.8Z" fill="#000000"/><path d="M219.5 94.4L228.1 94.4L223.8 102.5Z" fill="#000000"/><path d="M219.5 92.0L228.1 92.0L223.8 100.1Z" fill="#000000"/><path d="M221.3 89.7L229.9 89.7L225.6 97.8Z" fill="#000000"/><path d="M221.0 87.4L229.6 87.4L225.3 95.5Z" fill="#000000"/><path d="M221.4 85.0L230.0 85.0L225.7 93.1Z" fill="#000000"/><path d="M222.9 82.7L231.5 82.7L227.2 90.8Z" fill="#000000"/><path d="M222.1 80.4L230.7 80.4L226.4 88.5Z" fill="#000000"/><path d="M222.0 78.1L230.6 78.1L226.3 86.2Z" fill="#000000"/><path d="M224.0 75.7L232.6 75.7L228.3 83.8Z" fill="#000000"/><path d="M223.6 73.4L232.2 73.4L227.9 81.5Z" fill="#000000"/><path d="M223.7 71.1L232.3 71.1L228.0 79.2Z" fill="#000000"/><path d="M225.0 68.8L233.6 68.8L229.3 76.9Z" fill="#000000"/><path d="M223.7 66.5L232.3 66.5L228.0 74.5Z" fill="#000000"/><path d="M225.3 64.1L233.9 64.1L229.6 72.2Z" fill="#000000"/><path d="M224.3 61.8L232.9 61.8L228.6 69.9Z" fill="#000000"/><path d="M226.0 59.5L234.6 59.5L230.3 67.6Z" fill="#000000"/><path d="M226.4 57.2L235.0 57.2L230.7 65.3Z" fill="#000000"/><path d="M225.2 54.9L233.8 54.9L229.5 63.0Z" fill="#000000"/><path d="M226.1 52.6L234.7 52.6L230.4 60.6Z" fill="#000000"/><path d="M225.6 50.2L234.2 50.2L229.9 58.3Z" fill="#000000"/><path d="M226.9 47.9L235.5 47.9L231.2 56.0Z" fill="#000000"/><path d="M226.9 45.6L235.5 45.6L231.2 53.7Z" fill="#000000"/><path d="M227.3 43.5L235.9 43.5L231.6 51.5Z" fill="#000000"/><path d="M227.3 41.3L235.9 41.3L231.6 49.4Z" fill="#000000"/><path d="M227.5 39.2L236.1 39.2L231.8 47.2Z" fill="#000000"/><path d="M228.0 37.0L236.6 37.0L232.3 45.1Z" fill="#000000"/><path d="M229.1 34.9L237.7 34.9L233.4 42.9Z" fill="#000000"/><path d="M228.7 32.7L237.3 32.7L233.0 40.8Z" fill="#000000"/><path d="M230.0 30.9L238.6 30.9L234.3 39.0Z" fill="#000000"/><path d="M230.7 29.2L239.3 29.2L235.0 37.3Z" fill="#000000"/><path d="M233.9 28.1L242.5 28.1L238.2 36.2Z" fill="#000000"/><path d="M242.7 27.3L251.3 27.3L247.0 35.4Z" fill="#000000"/><path d="M253.6 25.1L262.2 25.1L257.9 33.2Z" fill="#000000"/><path d="M256.6 20.7L265.2 20.7L260.9 28.8Z" fill="#000000"/><path d="M259.5 18.5L268.1 18.5L263.8 26.6Z" fill="#000000"/><path d="M262.1 17.3L270.7 17.3L266.4 25.4Z" fill="#000000"/><path d="M264.6 16.3L273.2 16.3L268.9 24.4Z" fill="#000000"/><path d="M267.6 12.7L276.2 12.7L271.9 20.8Z" fill="#000000"/><path d="M269.1 10.8L277.7 10.8L273.4 18.9Z" fill="#000000"/><path d="M270.5 9.0L279.1 9.0L274.8 17.1Z" fill="#000000"/><path d="M295.4 7.8L304.0 7.8L299.7 15.9Z" fill="#000000"/></g>
<path d="M141.7 420.0 L146.1 415.5 L152.0 413.7 L157.8 411.5 L163.7 407.0 L167.9 401.0 L176.7 395.0 L187.0 387.1 L194.3 381.2 L196.5 372.5 L200.1 366.6 L203.4 364.6 L225.3 364.6 L243.5 364.2 L245.2 361.5 L246.8 359.0 L248.5 356.4 L259.4 353.4 L265.3 350.5 L267.8 349.0 L271.6 341.4 L277.8 337.7 L280.3 327.6 L285.4 323.9 L292.9 322.6 L296.7 315.1 L300.4 306.5 L305.4 292.9 L310.5 270.3 L316.7 250.2 L320.5 232.6 L324.3 212.6 L326.7 202.9 L332.9 197.9 L338.0 180.3 L348.0 165.3 L355.5 150.2 L360.6 130.1 L366.8 115.1 L371.9 100.0 L373.6 95.4 L376.2 76.7 L378.0 63.6 L380.3 48.9 L382.6 31.4 L386.0 25.5 L391.0 19.6 L396.1 16.6 L544.4 16.2 L622.3 14.6 L624.5 10.9" fill="none" stroke="#00ffff" stroke-width="2.0" stroke-linejoin="round"/>
<g><path d="M137.7 423.0L145.7 423.0L141.7 415.6Z" fill="#00ffff"/><path d="M139.9 420.8L147.9 420.8L143.9 413.4Z" fill="#00ffff"/><path d="M142.1 418.5L150.1 418.5L146.1 411.1Z" fill="#00ffff"/><path d="M145.1 417.6L153.1 417.6L149.1 410.2Z" fill="#00ffff"/><path d="M148.0 416.7L156.0 416.7L152.0 409.3Z" fill="#00ffff"/><path d="M150.9 415.6L158.9 415.6L154.9 408.2Z" fill="#00ffff"/><path d="M153.8 414.5L161.8 414.5L157.8 407.1Z" fill="#00ffff"/><path d="M156.8 412.2L164.8 412.2L160.8 404.9Z" fill="#00ffff"/><path d="M159.7 410.0L167.7 410.0L163.7 402.6Z" fill="#00ffff"/><path d="M161.1 408.0L169.1 408.0L165.1 400.6Z" fill="#00ffff"/><path d="M162.5 406.0L170.5 406.0L166.5 398.6Z" fill="#00ffff"/><path d="M163.9 404.0L171.9 404.0L167.9 396.6Z" fill="#00ffff"/><path d="M166.8 402.0L174.8 402.0L170.8 394.6Z" fill="#00ffff"/><path d="M169.8 400.0L177.8 400.0L173.8 392.6Z" fill="#00ffff"/><path d="M172.7 398.0L180.7 398.0L176.7 390.6Z" fill="#00ffff"/><path d="M175.3 396.0L183.3 396.0L179.3 388.6Z" fill="#00ffff"/><path d="M177.8 394.1L185.8 394.1L181.8 386.7Z" fill="#00ffff"/><path d="M180.4 392.1L188.4 392.1L184.4 384.7Z" fill="#00ffff"/><path d="M183.0 390.1L191.0 390.1L187.0 382.7Z" fill="#00ffff"/><path d="M185.4 388.1L193.4 388.1L189.4 380.7Z" fill="#00ffff"/><path d="M187.9 386.2L195.9 386.2L191.9 378.8Z" fill="#00ffff"/><path d="M190.3 384.2L198.3 384.2L194.3 376.8Z" fill="#00ffff"/><path d="M190.1 382.0L198.1 382.0L194.1 374.6Z" fill="#00ffff"/><path d="M191.8 379.9L199.8 379.9L195.8 372.5Z" fill="#00ffff"/><path d="M192.1 377.7L200.1 377.7L196.1 370.3Z" fill="#00ffff"/><path d="M192.5 375.5L200.5 375.5L196.5 368.1Z" fill="#00ffff"/><path d="M192.7 373.5L200.7 373.5L196.7 366.1Z" fill="#00ffff"/><path d="M195.5 371.6L203.5 371.6L199.5 364.2Z" fill="#00ffff"/><path d="M196.1 369.6L204.1 369.6L200.1 362.2Z" fill="#00ffff"/><path d="M199.4 367.6L207.4 367.6L203.4 360.2Z" fill="#00ffff"/><path d="M221.3 367.6L229.3 367.6L225.3 360.2Z" fill="#00ffff"/><path d="M239.5 367.2L247.5 367.2L243.5 359.8Z" fill="#00ffff"/><path d="M241.2 364.5L249.2 364.5L245.2 357.1Z" fill="#00ffff"/><path d="M242.8 362.0L250.8 362.0L246.8 354.6Z" fill="#00ffff"/><path d="M244.5 359.4L252.5 359.4L248.5 352.0Z" fill="#00ffff"/><path d="M255.4 356.4L263.4 356.4L259.4 349.0Z" fill="#00ffff"/><path d="M258.4 354.9L266.4 354.9L262.4 347.6Z" fill="#00ffff"/><path d="M261.3 353.5L269.3 353.5L265.3 346.1Z" fill="#00ffff"/><path d="M263.8 352.0L271.8 352.0L267.8 344.6Z" fill="#00ffff"/><path d="M264.7 350.1L272.7 350.1L268.7 342.7Z" fill="#00ffff"/><path d="M265.9 348.2L273.9 348.2L269.9 340.8Z" fill="#00ffff"/><path d="M267.2 346.3L275.2 346.3L271.2 338.9Z" fill="#00ffff"/><path d="M267.6 344.4L275.6 344.4L271.6 337.0Z" fill="#00ffff"/><path d="M270.7 342.5L278.7 342.5L274.7 335.1Z" fill="#00ffff"/><path d="M273.8 340.7L281.8 340.7L277.8 333.3Z" fill="#00ffff"/><path d="M274.3 338.7L282.3 338.7L278.3 331.3Z" fill="#00ffff"/><path d="M274.4 336.7L282.4 336.7L278.4 329.3Z" fill="#00ffff"/><path d="M275.9 334.6L283.9 334.6L279.9 327.2Z" fill="#00ffff"/><path d="M275.0 332.6L283.0 332.6L279.0 325.2Z" fill="#00ffff"/><path d="M276.3 330.6L284.3 330.6L280.3 323.2Z" fill="#00ffff"/><path d="M278.9 328.8L286.9 328.8L282.9 321.4Z" fill="#00ffff"/><path d="M281.4 326.9L289.4 326.9L285.4 319.5Z" fill="#00ffff"/><path d="M285.1 326.2L293.1 326.2L289.1 318.9Z" fill="#00ffff"/><path d="M288.9 325.6L296.9 325.6L292.9 318.2Z" fill="#00ffff"/><path d="M289.1 323.7L297.1 323.7L293.1 316.3Z" fill="#00ffff"/><path d="M290.1 321.9L298.1 321.9L294.1 314.5Z" fill="#00ffff"/><path d="M291.5 320.0L299.5 320.0L295.5 312.6Z" fill="#00ffff"/><path d="M292.7 318.1L300.7 318.1L296.7 310.7Z" fill="#00ffff"/><path d="M293.0 316.0L301.0 316.0L297.0 308.6Z" fill="#00ffff"/><path d="M293.7 313.8L301.7 313.8L297.7 306.4Z" fill="#00ffff"/><path d="M295.1 311.6L303.1 311.6L299.1 304.2Z" fill="#00ffff"/><path d="M296.4 309.5L304.4 309.5L300.4 302.1Z" fill="#00ffff"/><path d="M296.5 307.2L304.5 307.2L300.5 299.8Z" fill="#00ffff"/><path d="M297.8 305.0L305.8 305.0L301.8 297.6Z" fill="#00ffff"/><path d="M299.4 302.7L307.4 302.7L303.4 295.3Z" fill="#00ffff"/><path d="M300.3 300.4L308.3 300.4L304.3 293.0Z" fill="#00ffff"/><path d="M301.4 298.2L309.4 298.2L305.4 290.8Z" fill="#00ffff"/><path d="M301.4 295.9L309.4 295.9L305.4 288.5Z" fill="#00ffff"/><path d="M301.5 293.6L309.5 293.6L305.5 286.2Z" fill="#00ffff"/><path d="M303.1 291.4L311.1 291.4L307.1 284.0Z" fill="#00ffff"/><path d="M302.2 289.1L310.2 289.1L306.2 281.7Z" fill="#00ffff"/><path d="M302.6 286.9L310.6 286.9L306.6 279.5Z" fill="#00ffff"/><path d="M303.4 284.6L311.4 284.6L307.4 277.2Z" fill="#00ffff"/><path d="M304.1 282.3L312.1 282.3L308.1 274.9Z" fill="#00ffff"/><path d="M305.4 280.1L313.4 280.1L309.4 272.7Z" fill="#00ffff"/><path d="M305.3 277.8L313.3 277.8L309.3 270.4Z" fill="#00ffff"/><path d="M305.8 275.6L313.8 275.6L309.8 268.2Z" fill="#00ffff"/><path d="M306.5 273.3L314.5 273.3L310.5 265.9Z" fill="#00ffff"/><path d="M308.1 271.1L316.1 271.1L312.1 263.7Z" fill="#00ffff"/><path d="M308.7 268.8L316.7 268.8L312.7 261.4Z" fill="#00ffff"/><path d="M308.4 266.6L316.4 266.6L312.4 259.2Z" fill="#00ffff"/><path d="M309.2 264.4L317.2 264.4L313.2 257.0Z" fill="#00ffff"/><path d="M310.3 262.1L318.3 262.1L314.3 254.7Z" fill="#00ffff"/><path d="M310.9 259.9L318.9 259.9L314.9 252.5Z" fill="#00ffff"/><path d="M311.9 257.7L319.9 257.7L315.9 250.3Z" fill="#00ffff"/><path d="M312.5 255.4L320.5 255.4L316.5 248.0Z" fill="#00ffff"/><path d="M312.7 253.2L320.7 253.2L316.7 245.8Z" fill="#00ffff"/><path d="M314.1 251.0L322.1 251.0L318.1 243.6Z" fill="#00ffff"/><path d="M313.2 248.8L321.2 248.8L317.2 241.4Z" fill="#00ffff"/><path d="M313.8 246.6L321.8 246.6L317.8 239.2Z" fill="#00ffff"/><path d="M314.4 244.4L322.4 244.4L318.4 237.0Z" fill="#00ffff"/><path d="M315.0 242.2L323.0 242.2L319.0 234.8Z" fill="#00ffff"/><path d="M315.8 240.0L323.8 240.0L319.8 232.6Z" fill="#00ffff"/><path d="M316.8 237.8L324.8 237.8L320.8 230.4Z" fill="#00ffff"/><path d="M316.5 235.6L324.5 235.6L320.5 228.2Z" fill="#00ffff"/><path d="M316.6 233.4L324.6 233.4L320.6 226.0Z" fill="#00ffff"/><path d="M317.3 231.2L325.3 231.2L321.3 223.8Z" fill="#00ffff"/><path d="M316.9 228.9L324.9 228.9L320.9 221.5Z" fill="#00ffff"/><path d="M318.1 226.7L326.1 226.7L322.1 219.3Z" fill="#00ffff"/><path d="M319.2 224.5L327.2 224.5L323.2 217.1Z" fill="#00ffff"/><path d="M319.5 222.3L327.5 222.3L323.5 214.9Z" fill="#00ffff"/><path d="M320.2 220.0L328.2 220.0L324.2 212.6Z" fill="#00ffff"/><path d="M319.7 217.8L327.7 217.8L323.7 210.4Z" fill="#00ffff"/><path d="M320.3 215.6L328.3 215.6L324.3 208.2Z" fill="#00ffff"/><path d="M320.5 213.2L328.5 213.2L324.5 205.8Z" fill="#00ffff"/><path d="M320.7 210.8L328.7 210.8L324.7 203.3Z" fill="#00ffff"/><path d="M322.6 208.3L330.6 208.3L326.6 200.9Z" fill="#00ffff"/><path d="M322.7 205.9L330.7 205.9L326.7 198.5Z" fill="#00ffff"/><path d="M324.8 204.2L332.8 204.2L328.8 196.8Z" fill="#00ffff"/><path d="M326.8 202.6L334.8 202.6L330.8 195.2Z" fill="#00ffff"/><path d="M328.9 200.9L336.9 200.9L332.9 193.5Z" fill="#00ffff"/><path d="M329.6 198.7L337.6 198.7L333.6 191.3Z" fill="#00ffff"/><path d="M330.0 196.5L338.0 196.5L334.0 189.1Z" fill="#00ffff"/><path d="M330.5 194.3L338.5 194.3L334.5 186.9Z" fill="#00ffff"/><path d="M331.4 192.1L339.4 192.1L335.4 184.7Z" fill="#00ffff"/><path d="M332.8 189.9L340.8 189.9L336.8 182.5Z" fill="#00ffff"/><path d="M333.5 187.7L341.5 187.7L337.5 180.3Z" fill="#00ffff"/><path d="M334.3 185.5L342.3 185.5L338.3 178.1Z" fill="#00ffff"/><path d="M334.0 183.3L342.0 183.3L338.0 175.9Z" fill="#00ffff"/><path d="M335.4 181.2L343.4 181.2L339.4 173.8Z" fill="#00ffff"/><path d="M336.9 179.0L344.9 179.0L340.9 171.6Z" fill="#00ffff"/><path d="M338.3 176.9L346.3 176.9L342.3 169.5Z" fill="#00ffff"/><path d="M339.7 174.7L347.7 174.7L343.7 167.3Z" fill="#00ffff"/><path d="M341.1 172.6L349.1 172.6L345.1 165.2Z" fill="#00ffff"/><path d="M342.6 170.4L350.6 170.4L346.6 163.0Z" fill="#00ffff"/><path d="M344.0 168.3L352.0 168.3L348.0 160.9Z" fill="#00ffff"/><path d="M344.9 166.1L352.9 166.1L348.9 158.7Z" fill="#00ffff"/><path d="M345.7 164.0L353.7 164.0L349.7 156.6Z" fill="#00ffff"/><path d="M346.4 161.8L354.4 161.8L350.4 154.4Z" fill="#00ffff"/><path d="M348.0 159.7L356.0 159.7L352.0 152.3Z" fill="#00ffff"/><path d="M348.4 157.5L356.4 157.5L352.4 150.1Z" fill="#00ffff"/><path d="M349.9 155.4L357.9 155.4L353.9 148.0Z" fill="#00ffff"/><path d="M351.5 153.2L359.5 153.2L355.5 145.8Z" fill="#00ffff"/><path d="M352.0 151.0L360.0 151.0L356.0 143.6Z" fill="#00ffff"/><path d="M353.1 148.7L361.1 148.7L357.1 141.3Z" fill="#00ffff"/><path d="M353.8 146.5L361.8 146.5L357.8 139.1Z" fill="#00ffff"/><path d="M354.6 144.3L362.6 144.3L358.6 136.9Z" fill="#00ffff"/><path d="M354.1 142.0L362.1 142.0L358.1 134.6Z" fill="#00ffff"/><path d="M354.0 139.8L362.0 139.8L358.0 132.4Z" fill="#00ffff"/><path d="M356.0 137.6L364.0 137.6L360.0 130.2Z" fill="#00ffff"/><path d="M356.0 135.3L364.0 135.3L360.0 127.9Z" fill="#00ffff"/><path d="M356.6 133.1L364.6 133.1L360.6 125.7Z" fill="#00ffff"/><path d="M357.1 131.0L365.1 131.0L361.1 123.6Z" fill="#00ffff"/><path d="M359.3 128.8L367.3 128.8L363.3 121.4Z" fill="#00ffff"/><path d="M358.9 126.7L366.9 126.7L362.9 119.3Z" fill="#00ffff"/><path d="M360.8 124.5L368.8 124.5L364.8 117.1Z" fill="#00ffff"/><path d="M360.8 122.4L368.8 122.4L364.8 115.0Z" fill="#00ffff"/><path d="M361.0 120.2L369.0 120.2L365.0 112.8Z" fill="#00ffff"/><path d="M362.8 118.1L370.8 118.1L366.8 110.7Z" fill="#00ffff"/><path d="M364.0 115.9L372.0 115.9L368.0 108.5Z" fill="#00ffff"/><path d="M363.7 113.8L371.7 113.8L367.7 106.4Z" fill="#00ffff"/><path d="M365.8 111.6L373.8 111.6L369.8 104.2Z" fill="#00ffff"/><path d="M365.0 109.5L373.0 109.5L369.0 102.1Z" fill="#00ffff"/><path d="M366.0 107.3L374.0 107.3L370.0 99.9Z" fill="#00ffff"/><path d="M367.5 105.2L375.5 105.2L371.5 97.8Z" fill="#00ffff"/><path d="M367.9 103.0L375.9 103.0L371.9 95.6Z" fill="#00ffff"/><path d="M369.6 100.7L377.6 100.7L373.6 93.3Z" fill="#00ffff"/><path d="M369.6 98.4L377.6 98.4L373.6 91.0Z" fill="#00ffff"/><path d="M370.4 96.1L378.4 96.1L374.4 88.7Z" fill="#00ffff"/><path d="M369.5 93.7L377.5 93.7L373.5 86.3Z" fill="#00ffff"/><path d="M371.2 91.4L379.2 91.4L375.2 84.0Z" fill="#00ffff"/><path d="M370.8 89.1L378.8 89.1L374.8 81.7Z" fill="#00ffff"/><path d="M370.8 86.7L378.8 86.7L374.8 79.3Z" fill="#00ffff"/><path d="M371.7 84.4L379.7 84.4L375.7 77.0Z" fill="#00ffff"/><path d="M370.9 82.0L378.9 82.0L374.9 74.6Z" fill="#00ffff"/><path d="M372.2 79.7L380.2 79.7L376.2 72.3Z" fill="#00ffff"/><path d="M373.1 77.5L381.1 77.5L377.1 70.1Z" fill="#00ffff"/><path d="M372.4 75.3L380.4 75.3L376.4 67.9Z" fill="#00ffff"/><path d="M373.3 73.2L381.3 73.2L377.3 65.8Z" fill="#00ffff"/><path d="M373.1 71.0L381.1 71.0L377.1 63.6Z" fill="#00ffff"/><path d="M374.5 68.8L382.5 68.8L378.5 61.4Z" fill="#00ffff"/><path d="M374.0 66.6L382.0 66.6L378.0 59.2Z" fill="#00ffff"/><path d="M373.7 64.2L381.7 64.2L377.7 56.8Z" fill="#00ffff"/><path d="M374.4 61.7L382.4 61.7L378.4 54.3Z" fill="#00ffff"/><path d="M374.7 59.2L382.7 59.2L378.7 51.9Z" fill="#00ffff"/><path d="M375.8 56.8L383.8 56.8L379.8 49.4Z" fill="#00ffff"/><path d="M375.5 54.3L383.5 54.3L379.5 46.9Z" fill="#00ffff"/><path d="M376.3 51.9L384.3 51.9L380.3 44.5Z" fill="#00ffff"/><path d="M376.5 49.7L384.5 49.7L380.5 42.3Z" fill="#00ffff"/><path d="M377.5 47.5L385.5 47.5L381.5 40.1Z" fill="#00ffff"/><path d="M377.1 45.3L385.1 45.3L381.1 37.9Z" fill="#00ffff"/><path d="M378.4 43.1L386.4 43.1L382.4 35.8Z" fill="#00ffff"/><path d="M377.9 41.0L385.9 41.0L381.9 33.6Z" fill="#00ffff"/><path d="M377.2 38.8L385.2 38.8L381.2 31.4Z" fill="#00ffff"/><path d="M378.5 36.6L386.5 36.6L382.5 29.2Z" fill="#00ffff"/><path d="M378.6 34.4L386.6 34.4L382.6 27.0Z" fill="#00ffff"/><path d="M378.8 32.4L386.8 32.4L382.8 25.0Z" fill="#00ffff"/><path d="M380.4 30.5L388.4 30.5L384.4 23.1Z" fill="#00ffff"/><path d="M382.0 28.5L390.0 28.5L386.0 21.1Z" fill="#00ffff"/><path d="M383.7 26.5L391.7 26.5L387.7 19.1Z" fill="#00ffff"/><path d="M385.3 24.6L393.3 24.6L389.3 17.2Z" fill="#00ffff"/><path d="M387.0 22.6L395.0 22.6L391.0 15.2Z" fill="#00ffff"/><path d="M389.6 21.1L397.6 21.1L393.6 13.7Z" fill="#00ffff"/><path d="M392.1 19.6L400.1 19.6L396.1 12.2Z" fill="#00ffff"/><path d="M540.4 19.2L548.4 19.2L544.4 11.8Z" fill="#00ffff"/><path d="M618.3 17.6L626.3 17.6L622.3 10.2Z" fill="#00ffff"/><path d="M619.6 15.8L627.6 15.8L623.6 8.3Z" fill="#00ffff"/><path d="M620.5 13.9L628.5 13.9L624.5 6.5Z" fill="#00ffff"/></g>
<rect x="499.5" y="238.2" width="179.5" height="183.0" fill="#fff" stroke="#262626" stroke-width="1.2"/>
<path d="M504 255.6H554" stroke="#ff00ff" stroke-width="1.5" stroke-dasharray="1.4 1.6" fill="none"/>
<rect x="527.7" y="253.8" width="3.6" height="3.6" fill="#ff00ff"/>
<text x="557.9" y="265.1" font-family="&quot;Liberation Serif&quot;, serif" font-weight="bold" font-size="26.1" fill="#000" style="font-kerning:none">adf-mDFP</text>
<path d="M504 285.3H554" stroke="#0000f0" stroke-width="1.5" fill="none"/>
<circle cx="529.5" cy="285.3" r="2" fill="#0000f0"/>
<text x="557.9" y="294.5" font-family="&quot;Liberation Serif&quot;, serif" font-weight="bold" font-size="26.1" fill="#000" style="font-kerning:none">SMDFP</text>
<path d="M504 315.0H554" stroke="#e80000" stroke-width="1.5" stroke-dasharray="5 1.8 1.2 1.8" fill="none"/>
<rect x="527.3" y="312.8" width="4.4" height="4.4" fill="#fff" stroke="#ff0000" stroke-width="1.3"/>
<text x="557.9" y="323.5" font-family="&quot;Liberation Serif&quot;, serif" font-weight="bold" font-size="26.1" fill="#000" style="font-kerning:none">SMBFGS</text>
<path d="M504 344.7H554" stroke="#00f000" stroke-width="1.5" stroke-dasharray="6 6.5" fill="none"/>
<path d="M529.5 340.7L532.3 344.7L529.5 348.7L526.7 344.7Z" fill="#fff" stroke="#00ff00" stroke-width="1.3"/>
<text x="557.9" y="354.0" font-family="&quot;Liberation Serif&quot;, serif" font-weight="bold" font-size="26.1" fill="#000" style="font-kerning:none">ISCGP</text>
<path d="M504 374.4H554" stroke="#000000" stroke-width="1.5" stroke-dasharray="1.4 1.6" fill="none"/>
<path d="M526.9 372.2L532.1 372.2L529.5 377.3Z" fill="#fff" stroke="#000000" stroke-width="1.5"/>
<text x="557.9" y="384.2" font-family="&quot;Liberation Serif&quot;, serif" font-weight="bold" font-size="26.1" fill="#000" style="font-kerning:none">HHSLS</text>
<path d="M504 404.1H554" stroke="#00ffff" stroke-width="1.5" fill="none"/>
<path d="M526.3 406.7L532.7 406.7L529.5 400.5Z" fill="#00ffff"/>
<text x="557.9" y="413.4" font-family="&quot;Liberation Serif&quot;, serif" font-weight="bold" font-size="26.1" fill="#000" style="font-kerning:none">HLSPRP</text>
</svg>
</body></html>
